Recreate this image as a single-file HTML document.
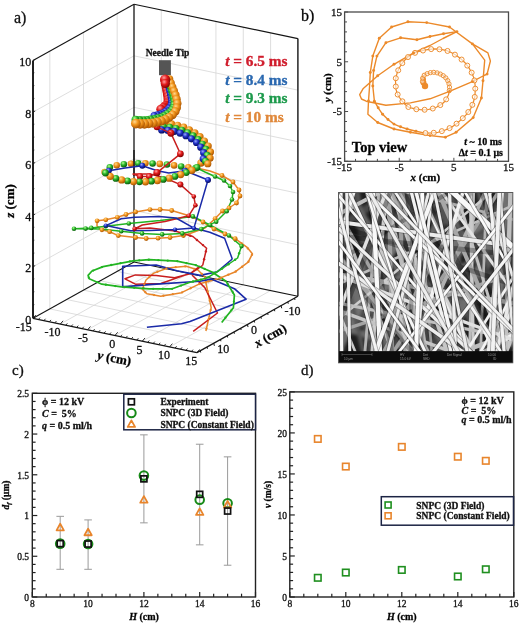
<!DOCTYPE html>
<html><head><meta charset="utf-8"><title>Figure</title>
<style>html,body{margin:0;padding:0;background:#fff;} svg{display:block;} text{font-family:'Liberation Serif','Times New Roman',serif;stroke:#111;stroke-width:0.3px;}</style>
</head><body>
<svg width="520" height="623" viewBox="0 0 520 623">
<rect width="520" height="623" fill="#fff"/>
<rect x="32.3" y="393.3" width="223.2" height="203.7" fill="none" stroke="#222" stroke-width="1.4"/>
<line x1="32.3" y1="597" x2="32.3" y2="592" stroke="#222" stroke-width="1.2"/>
<line x1="46.25" y1="597" x2="46.25" y2="593.7" stroke="#222" stroke-width="1.2"/>
<line x1="60.2" y1="597" x2="60.2" y2="593.7" stroke="#222" stroke-width="1.2"/>
<line x1="74.15" y1="597" x2="74.15" y2="593.7" stroke="#222" stroke-width="1.2"/>
<line x1="88.1" y1="597" x2="88.1" y2="592" stroke="#222" stroke-width="1.2"/>
<line x1="102.05" y1="597" x2="102.05" y2="593.7" stroke="#222" stroke-width="1.2"/>
<line x1="116" y1="597" x2="116" y2="593.7" stroke="#222" stroke-width="1.2"/>
<line x1="129.95" y1="597" x2="129.95" y2="593.7" stroke="#222" stroke-width="1.2"/>
<line x1="143.9" y1="597" x2="143.9" y2="592" stroke="#222" stroke-width="1.2"/>
<line x1="157.85" y1="597" x2="157.85" y2="593.7" stroke="#222" stroke-width="1.2"/>
<line x1="171.8" y1="597" x2="171.8" y2="593.7" stroke="#222" stroke-width="1.2"/>
<line x1="185.75" y1="597" x2="185.75" y2="593.7" stroke="#222" stroke-width="1.2"/>
<line x1="199.7" y1="597" x2="199.7" y2="592" stroke="#222" stroke-width="1.2"/>
<line x1="213.65" y1="597" x2="213.65" y2="593.7" stroke="#222" stroke-width="1.2"/>
<line x1="227.6" y1="597" x2="227.6" y2="593.7" stroke="#222" stroke-width="1.2"/>
<line x1="241.55" y1="597" x2="241.55" y2="593.7" stroke="#222" stroke-width="1.2"/>
<line x1="255.5" y1="597" x2="255.5" y2="592" stroke="#222" stroke-width="1.2"/>
<line x1="32.3" y1="597" x2="37.3" y2="597" stroke="#222" stroke-width="1.2"/>
<line x1="32.3" y1="588.85" x2="35.6" y2="588.85" stroke="#222" stroke-width="1.2"/>
<line x1="32.3" y1="580.7" x2="35.6" y2="580.7" stroke="#222" stroke-width="1.2"/>
<line x1="32.3" y1="572.56" x2="35.6" y2="572.56" stroke="#222" stroke-width="1.2"/>
<line x1="32.3" y1="564.41" x2="35.6" y2="564.41" stroke="#222" stroke-width="1.2"/>
<line x1="32.3" y1="556.26" x2="37.3" y2="556.26" stroke="#222" stroke-width="1.2"/>
<line x1="32.3" y1="548.11" x2="35.6" y2="548.11" stroke="#222" stroke-width="1.2"/>
<line x1="32.3" y1="539.96" x2="35.6" y2="539.96" stroke="#222" stroke-width="1.2"/>
<line x1="32.3" y1="531.82" x2="35.6" y2="531.82" stroke="#222" stroke-width="1.2"/>
<line x1="32.3" y1="523.67" x2="35.6" y2="523.67" stroke="#222" stroke-width="1.2"/>
<line x1="32.3" y1="515.52" x2="37.3" y2="515.52" stroke="#222" stroke-width="1.2"/>
<line x1="32.3" y1="507.37" x2="35.6" y2="507.37" stroke="#222" stroke-width="1.2"/>
<line x1="32.3" y1="499.22" x2="35.6" y2="499.22" stroke="#222" stroke-width="1.2"/>
<line x1="32.3" y1="491.08" x2="35.6" y2="491.08" stroke="#222" stroke-width="1.2"/>
<line x1="32.3" y1="482.93" x2="35.6" y2="482.93" stroke="#222" stroke-width="1.2"/>
<line x1="32.3" y1="474.78" x2="37.3" y2="474.78" stroke="#222" stroke-width="1.2"/>
<line x1="32.3" y1="466.63" x2="35.6" y2="466.63" stroke="#222" stroke-width="1.2"/>
<line x1="32.3" y1="458.48" x2="35.6" y2="458.48" stroke="#222" stroke-width="1.2"/>
<line x1="32.3" y1="450.34" x2="35.6" y2="450.34" stroke="#222" stroke-width="1.2"/>
<line x1="32.3" y1="442.19" x2="35.6" y2="442.19" stroke="#222" stroke-width="1.2"/>
<line x1="32.3" y1="434.04" x2="37.3" y2="434.04" stroke="#222" stroke-width="1.2"/>
<line x1="32.3" y1="425.89" x2="35.6" y2="425.89" stroke="#222" stroke-width="1.2"/>
<line x1="32.3" y1="417.74" x2="35.6" y2="417.74" stroke="#222" stroke-width="1.2"/>
<line x1="32.3" y1="409.6" x2="35.6" y2="409.6" stroke="#222" stroke-width="1.2"/>
<line x1="32.3" y1="401.45" x2="35.6" y2="401.45" stroke="#222" stroke-width="1.2"/>
<line x1="32.3" y1="393.3" x2="37.3" y2="393.3" stroke="#222" stroke-width="1.2"/>
<text x="29" y="600.8" font-size="9.5" text-anchor="end" font-weight="normal" fill="#111">0</text>
<text x="29" y="560.06" font-size="9.5" text-anchor="end" font-weight="normal" fill="#111">0.5</text>
<text x="29" y="519.32" font-size="9.5" text-anchor="end" font-weight="normal" fill="#111">1</text>
<text x="29" y="478.58" font-size="9.5" text-anchor="end" font-weight="normal" fill="#111">1.5</text>
<text x="29" y="437.84" font-size="9.5" text-anchor="end" font-weight="normal" fill="#111">2</text>
<text x="29" y="397.1" font-size="9.5" text-anchor="end" font-weight="normal" fill="#111">2.5</text>
<text x="32.3" y="606.8" font-size="9.5" text-anchor="middle" font-weight="normal" fill="#111">8</text>
<text x="88.1" y="606.8" font-size="9.5" text-anchor="middle" font-weight="normal" fill="#111">10</text>
<text x="143.9" y="606.8" font-size="9.5" text-anchor="middle" font-weight="normal" fill="#111">12</text>
<text x="199.7" y="606.8" font-size="9.5" text-anchor="middle" font-weight="normal" fill="#111">14</text>
<text x="255.5" y="606.8" font-size="9.5" text-anchor="middle" font-weight="normal" fill="#111">16</text>
<text x="0" y="0" font-size="9.5" font-weight="bold" text-anchor="middle" transform="translate(9.4,495) rotate(-90)"><tspan font-style="italic">d</tspan><tspan font-size="6.5" dy="2" font-style="italic">f</tspan><tspan dy="-2"> (μm)</tspan></text>
<text x="144" y="619.8" font-size="10" font-weight="bold" text-anchor="middle"><tspan font-style="italic">H</tspan> (cm)</text>
<text x="42" y="405.3" font-size="10" text-anchor="start" font-weight="bold" fill="#111">ϕ = 12 kV</text>
<text x="42" y="417.3" font-size="10" text-anchor="start" font-weight="bold" fill="#111"><tspan font-style="italic">C</tspan> =&#160; 5%</text>
<text x="42" y="428.8" font-size="10" text-anchor="start" font-weight="bold" fill="#111"><tspan font-style="italic">q</tspan> = 0.5 ml/h</text>
<line x1="60.2" y1="569.3" x2="60.2" y2="516.33" stroke="#9a9a9a" stroke-width="1"/>
<line x1="56.4" y1="569.3" x2="64" y2="569.3" stroke="#9a9a9a" stroke-width="1"/>
<line x1="56.4" y1="516.33" x2="64" y2="516.33" stroke="#9a9a9a" stroke-width="1"/>
<line x1="88.1" y1="569.3" x2="88.1" y2="519.92" stroke="#9a9a9a" stroke-width="1"/>
<line x1="84.3" y1="569.3" x2="91.9" y2="569.3" stroke="#9a9a9a" stroke-width="1"/>
<line x1="84.3" y1="519.92" x2="91.9" y2="519.92" stroke="#9a9a9a" stroke-width="1"/>
<line x1="143.9" y1="522.85" x2="143.9" y2="434.85" stroke="#9a9a9a" stroke-width="1"/>
<line x1="140.1" y1="522.85" x2="147.7" y2="522.85" stroke="#9a9a9a" stroke-width="1"/>
<line x1="140.1" y1="434.85" x2="147.7" y2="434.85" stroke="#9a9a9a" stroke-width="1"/>
<line x1="199.7" y1="544.85" x2="199.7" y2="444.23" stroke="#9a9a9a" stroke-width="1"/>
<line x1="195.9" y1="544.85" x2="203.5" y2="544.85" stroke="#9a9a9a" stroke-width="1"/>
<line x1="195.9" y1="444.23" x2="203.5" y2="444.23" stroke="#9a9a9a" stroke-width="1"/>
<line x1="227.6" y1="565.22" x2="227.6" y2="456.85" stroke="#9a9a9a" stroke-width="1"/>
<line x1="223.8" y1="565.22" x2="231.4" y2="565.22" stroke="#9a9a9a" stroke-width="1"/>
<line x1="223.8" y1="456.85" x2="231.4" y2="456.85" stroke="#9a9a9a" stroke-width="1"/>
<circle cx="60.2" cy="543.63" r="4.3" fill="none" stroke="#178a17" stroke-width="2.0"/>
<circle cx="88.1" cy="544.04" r="4.3" fill="none" stroke="#178a17" stroke-width="2.0"/>
<circle cx="143.9" cy="475.59" r="4.3" fill="none" stroke="#178a17" stroke-width="2.0"/>
<circle cx="199.7" cy="499.63" r="4.3" fill="none" stroke="#178a17" stroke-width="2.0"/>
<circle cx="227.6" cy="503.3" r="4.3" fill="none" stroke="#178a17" stroke-width="2.0"/>
<polygon points="60.2,523.8 63.85,530.37 56.55,530.37" fill="none" stroke="#e8852c" stroke-width="1.8" stroke-linejoin="round"/>
<polygon points="88.1,528.69 91.75,535.26 84.45,535.26" fill="none" stroke="#e8852c" stroke-width="1.8" stroke-linejoin="round"/>
<polygon points="143.9,496.1 147.55,502.67 140.25,502.67" fill="none" stroke="#e8852c" stroke-width="1.8" stroke-linejoin="round"/>
<polygon points="199.7,508.32 203.35,514.89 196.05,514.89" fill="none" stroke="#e8852c" stroke-width="1.8" stroke-linejoin="round"/>
<polygon points="227.6,500.99 231.25,507.56 223.95,507.56" fill="none" stroke="#e8852c" stroke-width="1.8" stroke-linejoin="round"/>
<rect x="57.2" y="540.63" width="6" height="6" fill="none" stroke="#111" stroke-width="1.7"/>
<rect x="85.1" y="541.04" width="6" height="6" fill="none" stroke="#111" stroke-width="1.7"/>
<rect x="140.9" y="475.85" width="6" height="6" fill="none" stroke="#111" stroke-width="1.7"/>
<rect x="196.7" y="491.34" width="6" height="6" fill="none" stroke="#111" stroke-width="1.7"/>
<rect x="224.6" y="508.04" width="6" height="6" fill="none" stroke="#111" stroke-width="1.7"/>
<rect x="123.8" y="394.2" width="131.7" height="35.6" fill="#fff" stroke="#1c2444" stroke-width="1.5"/>
<rect x="128.4" y="398.8" width="6" height="6" fill="none" stroke="#111" stroke-width="1.7"/>
<circle cx="131.4" cy="413" r="4.3" fill="none" stroke="#178a17" stroke-width="2.0"/>
<polygon points="131.4,420.36 135.05,426.93 127.75,426.93" fill="none" stroke="#e8852c" stroke-width="1.8" stroke-linejoin="round"/>
<text x="160.4" y="405" font-size="9.5" text-anchor="start" font-weight="bold" fill="#111">Experiment</text>
<text x="160.4" y="416.3" font-size="9.5" text-anchor="start" font-weight="bold" fill="#111">SNPC (3D Field)</text>
<text x="160.4" y="427.6" font-size="9.5" text-anchor="start" font-weight="bold" fill="#111">SNPC (Constant Field)</text>
<text x="12" y="375" font-size="15" text-anchor="start" font-weight="normal" fill="#111">c)</text>
<rect x="289.8" y="391.9" width="224" height="205.1" fill="none" stroke="#222" stroke-width="1.4"/>
<line x1="289.8" y1="597" x2="289.8" y2="592" stroke="#222" stroke-width="1.2"/>
<line x1="303.8" y1="597" x2="303.8" y2="593.7" stroke="#222" stroke-width="1.2"/>
<line x1="317.8" y1="597" x2="317.8" y2="593.7" stroke="#222" stroke-width="1.2"/>
<line x1="331.8" y1="597" x2="331.8" y2="593.7" stroke="#222" stroke-width="1.2"/>
<line x1="345.8" y1="597" x2="345.8" y2="592" stroke="#222" stroke-width="1.2"/>
<line x1="359.8" y1="597" x2="359.8" y2="593.7" stroke="#222" stroke-width="1.2"/>
<line x1="373.8" y1="597" x2="373.8" y2="593.7" stroke="#222" stroke-width="1.2"/>
<line x1="387.8" y1="597" x2="387.8" y2="593.7" stroke="#222" stroke-width="1.2"/>
<line x1="401.8" y1="597" x2="401.8" y2="592" stroke="#222" stroke-width="1.2"/>
<line x1="415.8" y1="597" x2="415.8" y2="593.7" stroke="#222" stroke-width="1.2"/>
<line x1="429.8" y1="597" x2="429.8" y2="593.7" stroke="#222" stroke-width="1.2"/>
<line x1="443.8" y1="597" x2="443.8" y2="593.7" stroke="#222" stroke-width="1.2"/>
<line x1="457.8" y1="597" x2="457.8" y2="592" stroke="#222" stroke-width="1.2"/>
<line x1="471.8" y1="597" x2="471.8" y2="593.7" stroke="#222" stroke-width="1.2"/>
<line x1="485.8" y1="597" x2="485.8" y2="593.7" stroke="#222" stroke-width="1.2"/>
<line x1="499.8" y1="597" x2="499.8" y2="593.7" stroke="#222" stroke-width="1.2"/>
<line x1="513.8" y1="597" x2="513.8" y2="592" stroke="#222" stroke-width="1.2"/>
<line x1="289.8" y1="597" x2="294.8" y2="597" stroke="#222" stroke-width="1.2"/>
<line x1="289.8" y1="588.8" x2="293.1" y2="588.8" stroke="#222" stroke-width="1.2"/>
<line x1="289.8" y1="580.59" x2="293.1" y2="580.59" stroke="#222" stroke-width="1.2"/>
<line x1="289.8" y1="572.39" x2="293.1" y2="572.39" stroke="#222" stroke-width="1.2"/>
<line x1="289.8" y1="564.18" x2="293.1" y2="564.18" stroke="#222" stroke-width="1.2"/>
<line x1="289.8" y1="555.98" x2="294.8" y2="555.98" stroke="#222" stroke-width="1.2"/>
<line x1="289.8" y1="547.78" x2="293.1" y2="547.78" stroke="#222" stroke-width="1.2"/>
<line x1="289.8" y1="539.57" x2="293.1" y2="539.57" stroke="#222" stroke-width="1.2"/>
<line x1="289.8" y1="531.37" x2="293.1" y2="531.37" stroke="#222" stroke-width="1.2"/>
<line x1="289.8" y1="523.16" x2="293.1" y2="523.16" stroke="#222" stroke-width="1.2"/>
<line x1="289.8" y1="514.96" x2="294.8" y2="514.96" stroke="#222" stroke-width="1.2"/>
<line x1="289.8" y1="506.76" x2="293.1" y2="506.76" stroke="#222" stroke-width="1.2"/>
<line x1="289.8" y1="498.55" x2="293.1" y2="498.55" stroke="#222" stroke-width="1.2"/>
<line x1="289.8" y1="490.35" x2="293.1" y2="490.35" stroke="#222" stroke-width="1.2"/>
<line x1="289.8" y1="482.14" x2="293.1" y2="482.14" stroke="#222" stroke-width="1.2"/>
<line x1="289.8" y1="473.94" x2="294.8" y2="473.94" stroke="#222" stroke-width="1.2"/>
<line x1="289.8" y1="465.74" x2="293.1" y2="465.74" stroke="#222" stroke-width="1.2"/>
<line x1="289.8" y1="457.53" x2="293.1" y2="457.53" stroke="#222" stroke-width="1.2"/>
<line x1="289.8" y1="449.33" x2="293.1" y2="449.33" stroke="#222" stroke-width="1.2"/>
<line x1="289.8" y1="441.12" x2="293.1" y2="441.12" stroke="#222" stroke-width="1.2"/>
<line x1="289.8" y1="432.92" x2="294.8" y2="432.92" stroke="#222" stroke-width="1.2"/>
<line x1="289.8" y1="424.72" x2="293.1" y2="424.72" stroke="#222" stroke-width="1.2"/>
<line x1="289.8" y1="416.51" x2="293.1" y2="416.51" stroke="#222" stroke-width="1.2"/>
<line x1="289.8" y1="408.31" x2="293.1" y2="408.31" stroke="#222" stroke-width="1.2"/>
<line x1="289.8" y1="400.1" x2="293.1" y2="400.1" stroke="#222" stroke-width="1.2"/>
<line x1="289.8" y1="391.9" x2="294.8" y2="391.9" stroke="#222" stroke-width="1.2"/>
<text x="287" y="601.2" font-size="9.5" text-anchor="end" font-weight="normal" fill="#111">0</text>
<text x="287" y="560.18" font-size="9.5" text-anchor="end" font-weight="normal" fill="#111">5</text>
<text x="287" y="519.16" font-size="9.5" text-anchor="end" font-weight="normal" fill="#111">10</text>
<text x="287" y="478.14" font-size="9.5" text-anchor="end" font-weight="normal" fill="#111">15</text>
<text x="287" y="437.12" font-size="9.5" text-anchor="end" font-weight="normal" fill="#111">20</text>
<text x="287" y="396.1" font-size="9.5" text-anchor="end" font-weight="normal" fill="#111">25</text>
<text x="289.8" y="606.8" font-size="9.5" text-anchor="middle" font-weight="normal" fill="#111">8</text>
<text x="345.8" y="606.8" font-size="9.5" text-anchor="middle" font-weight="normal" fill="#111">10</text>
<text x="401.8" y="606.8" font-size="9.5" text-anchor="middle" font-weight="normal" fill="#111">12</text>
<text x="457.8" y="606.8" font-size="9.5" text-anchor="middle" font-weight="normal" fill="#111">14</text>
<text x="513.8" y="606.8" font-size="9.5" text-anchor="middle" font-weight="normal" fill="#111">16</text>
<text x="0" y="0" font-size="9.5" font-weight="bold" text-anchor="middle" transform="translate(271.2,494.5) rotate(-90)"><tspan font-style="italic">v</tspan> (m/s)</text>
<text x="401.8" y="619.8" font-size="10" font-weight="bold" text-anchor="middle"><tspan font-style="italic">H</tspan>  (cm)</text>
<text x="461.5" y="403.5" font-size="10" text-anchor="start" font-weight="bold" fill="#111">ϕ = 12 kV</text>
<text x="461.5" y="413.7" font-size="10" text-anchor="start" font-weight="bold" fill="#111"><tspan font-style="italic">C</tspan> =&#160; 5%</text>
<text x="461.5" y="423.4" font-size="10" text-anchor="start" font-weight="bold" fill="#111"><tspan font-style="italic">q</tspan> = 0.5 ml/h</text>
<rect x="314.55" y="435.66" width="6.5" height="6.5" fill="none" stroke="#e8852c" stroke-width="1.6"/>
<rect x="342.55" y="463.31" width="6.5" height="6.5" fill="none" stroke="#e8852c" stroke-width="1.6"/>
<rect x="398.55" y="443.62" width="6.5" height="6.5" fill="none" stroke="#e8852c" stroke-width="1.6"/>
<rect x="454.55" y="453.46" width="6.5" height="6.5" fill="none" stroke="#e8852c" stroke-width="1.6"/>
<rect x="482.55" y="457.56" width="6.5" height="6.5" fill="none" stroke="#e8852c" stroke-width="1.6"/>
<rect x="314.55" y="574.55" width="6.5" height="6.5" fill="none" stroke="#1f8f1f" stroke-width="1.6"/>
<rect x="342.55" y="569.3" width="6.5" height="6.5" fill="none" stroke="#1f8f1f" stroke-width="1.6"/>
<rect x="398.55" y="566.68" width="6.5" height="6.5" fill="none" stroke="#1f8f1f" stroke-width="1.6"/>
<rect x="454.55" y="573.24" width="6.5" height="6.5" fill="none" stroke="#1f8f1f" stroke-width="1.6"/>
<rect x="482.55" y="566.02" width="6.5" height="6.5" fill="none" stroke="#1f8f1f" stroke-width="1.6"/>
<rect x="381.3" y="496.7" width="132.2" height="28.5" fill="#fff" stroke="#1c2444" stroke-width="1.5"/>
<rect x="385.1" y="502" width="6" height="6" fill="none" stroke="#1f8f1f" stroke-width="1.6"/>
<rect x="385.1" y="512.8" width="6" height="6" fill="none" stroke="#e8852c" stroke-width="1.6"/>
<text x="416.3" y="508.6" font-size="9.5" text-anchor="start" font-weight="bold" fill="#111">SNPC (3D Field)</text>
<text x="416.3" y="519.3" font-size="9.5" text-anchor="start" font-weight="bold" fill="#111">SNPC (Constant Field)</text>
<text x="301" y="375.4" font-size="15" text-anchor="start" font-weight="normal" fill="#111">d)</text>
<defs>
<radialGradient id="go" cx="38%" cy="32%" r="70%"><stop offset="0" stop-color="#ffd890"/><stop offset="0.45" stop-color="#f2961c"/><stop offset="1" stop-color="#a85200"/></radialGradient>
<radialGradient id="gg" cx="38%" cy="32%" r="70%"><stop offset="0" stop-color="#b8ff98"/><stop offset="0.45" stop-color="#2cb82c"/><stop offset="1" stop-color="#075407"/></radialGradient>
<radialGradient id="gb" cx="38%" cy="32%" r="70%"><stop offset="0" stop-color="#9aa8ff"/><stop offset="0.45" stop-color="#2233c8"/><stop offset="1" stop-color="#02075a"/></radialGradient>
<radialGradient id="gr" cx="38%" cy="32%" r="70%"><stop offset="0" stop-color="#ffa0a0"/><stop offset="0.45" stop-color="#e21a1a"/><stop offset="1" stop-color="#780000"/></radialGradient>
<clipPath id="semclip"><rect x="339" y="193" width="173.5" height="158.4"/></clipPath>
<filter id="semblur" x="-5%" y="-5%" width="110%" height="110%"><feGaussianBlur stdDeviation="0.7"/></filter>
<filter id="semblur2" x="-5%" y="-5%" width="110%" height="110%"><feGaussianBlur stdDeviation="1.4"/></filter>
</defs>
<line x1="49.83" y1="308.92" x2="49.83" y2="51.22" stroke="#d6d6d6" stroke-width="0.8"/>
<line x1="83.5" y1="290.15" x2="83.5" y2="32.45" stroke="#d6d6d6" stroke-width="0.8"/>
<line x1="117.17" y1="271.38" x2="117.17" y2="13.68" stroke="#d6d6d6" stroke-width="0.8"/>
<line x1="33" y1="266.76" x2="134" y2="210.46" stroke="#d6d6d6" stroke-width="0.8"/>
<line x1="33" y1="215.22" x2="134" y2="158.92" stroke="#d6d6d6" stroke-width="0.8"/>
<line x1="33" y1="163.68" x2="134" y2="107.38" stroke="#d6d6d6" stroke-width="0.8"/>
<line x1="33" y1="112.14" x2="134" y2="55.84" stroke="#d6d6d6" stroke-width="0.8"/>
<line x1="161.32" y1="267.72" x2="161.32" y2="10.02" stroke="#d6d6d6" stroke-width="0.8"/>
<line x1="188.63" y1="273.43" x2="188.63" y2="15.73" stroke="#d6d6d6" stroke-width="0.8"/>
<line x1="215.95" y1="279.15" x2="215.95" y2="21.45" stroke="#d6d6d6" stroke-width="0.8"/>
<line x1="243.27" y1="284.87" x2="243.27" y2="27.17" stroke="#d6d6d6" stroke-width="0.8"/>
<line x1="270.58" y1="290.58" x2="270.58" y2="32.88" stroke="#d6d6d6" stroke-width="0.8"/>
<line x1="134" y1="210.46" x2="297.9" y2="244.76" stroke="#d6d6d6" stroke-width="0.8"/>
<line x1="134" y1="158.92" x2="297.9" y2="193.22" stroke="#d6d6d6" stroke-width="0.8"/>
<line x1="134" y1="107.38" x2="297.9" y2="141.68" stroke="#d6d6d6" stroke-width="0.8"/>
<line x1="134" y1="55.84" x2="297.9" y2="90.14" stroke="#d6d6d6" stroke-width="0.8"/>
<line x1="60.32" y1="324.02" x2="161.32" y2="267.72" stroke="#d6d6d6" stroke-width="0.8"/>
<line x1="87.63" y1="329.73" x2="188.63" y2="273.43" stroke="#d6d6d6" stroke-width="0.8"/>
<line x1="114.95" y1="335.45" x2="215.95" y2="279.15" stroke="#d6d6d6" stroke-width="0.8"/>
<line x1="142.27" y1="341.17" x2="243.27" y2="284.87" stroke="#d6d6d6" stroke-width="0.8"/>
<line x1="169.58" y1="346.88" x2="270.58" y2="290.58" stroke="#d6d6d6" stroke-width="0.8"/>
<line x1="49.83" y1="308.92" x2="213.73" y2="343.22" stroke="#d6d6d6" stroke-width="0.8"/>
<line x1="66.67" y1="299.53" x2="230.57" y2="333.83" stroke="#d6d6d6" stroke-width="0.8"/>
<line x1="83.5" y1="290.15" x2="247.4" y2="324.45" stroke="#d6d6d6" stroke-width="0.8"/>
<line x1="100.33" y1="280.77" x2="264.23" y2="315.07" stroke="#d6d6d6" stroke-width="0.8"/>
<line x1="117.17" y1="271.38" x2="281.07" y2="305.68" stroke="#d6d6d6" stroke-width="0.8"/>
<line x1="33" y1="60.6" x2="134" y2="4.3" stroke="#151515" stroke-width="1.1"/>
<line x1="134" y1="4.3" x2="297.9" y2="38.6" stroke="#151515" stroke-width="1.1"/>
<line x1="134" y1="262" x2="134" y2="4.3" stroke="#151515" stroke-width="1.3"/>
<line x1="297.9" y1="296.3" x2="297.9" y2="38.6" stroke="#151515" stroke-width="1.4"/>
<line x1="33" y1="318.3" x2="134" y2="262" stroke="#151515" stroke-width="1.1"/>
<line x1="134" y1="262" x2="297.9" y2="296.3" stroke="#151515" stroke-width="1.1"/>
<line x1="33" y1="318.3" x2="33" y2="60.6" stroke="#151515" stroke-width="1.9"/>
<line x1="33" y1="318.3" x2="196.9" y2="352.6" stroke="#151515" stroke-width="1.3"/>
<line x1="196.9" y1="352.6" x2="297.9" y2="296.3" stroke="#151515" stroke-width="1.3"/>
<line x1="33" y1="318.3" x2="35.2" y2="317.09" stroke="#151515" stroke-width="0.9"/>
<line x1="33" y1="305.42" x2="34.3" y2="304.7" stroke="#151515" stroke-width="0.9"/>
<line x1="33" y1="292.53" x2="34.3" y2="291.82" stroke="#151515" stroke-width="0.9"/>
<line x1="33" y1="279.64" x2="34.3" y2="278.93" stroke="#151515" stroke-width="0.9"/>
<line x1="33" y1="266.76" x2="35.2" y2="265.55" stroke="#151515" stroke-width="0.9"/>
<line x1="33" y1="253.88" x2="34.3" y2="253.16" stroke="#151515" stroke-width="0.9"/>
<line x1="33" y1="240.99" x2="34.3" y2="240.28" stroke="#151515" stroke-width="0.9"/>
<line x1="33" y1="228.11" x2="34.3" y2="227.39" stroke="#151515" stroke-width="0.9"/>
<line x1="33" y1="215.22" x2="35.2" y2="214.01" stroke="#151515" stroke-width="0.9"/>
<line x1="33" y1="202.34" x2="34.3" y2="201.62" stroke="#151515" stroke-width="0.9"/>
<line x1="33" y1="189.45" x2="34.3" y2="188.74" stroke="#151515" stroke-width="0.9"/>
<line x1="33" y1="176.57" x2="34.3" y2="175.85" stroke="#151515" stroke-width="0.9"/>
<line x1="33" y1="163.68" x2="35.2" y2="162.47" stroke="#151515" stroke-width="0.9"/>
<line x1="33" y1="150.8" x2="34.3" y2="150.08" stroke="#151515" stroke-width="0.9"/>
<line x1="33" y1="137.91" x2="34.3" y2="137.2" stroke="#151515" stroke-width="0.9"/>
<line x1="33" y1="125.03" x2="34.3" y2="124.31" stroke="#151515" stroke-width="0.9"/>
<line x1="33" y1="112.14" x2="35.2" y2="110.93" stroke="#151515" stroke-width="0.9"/>
<line x1="33" y1="99.26" x2="34.3" y2="98.54" stroke="#151515" stroke-width="0.9"/>
<line x1="33" y1="86.37" x2="34.3" y2="85.66" stroke="#151515" stroke-width="0.9"/>
<line x1="33" y1="73.49" x2="34.3" y2="72.77" stroke="#151515" stroke-width="0.9"/>
<line x1="33" y1="60.6" x2="35.2" y2="59.39" stroke="#151515" stroke-width="0.9"/>
<line x1="33" y1="318.3" x2="35.76" y2="315.1" stroke="#151515" stroke-width="0.9"/>
<line x1="38.46" y1="319.44" x2="40.02" y2="317.64" stroke="#151515" stroke-width="0.9"/>
<line x1="43.93" y1="320.59" x2="45.48" y2="318.79" stroke="#151515" stroke-width="0.9"/>
<line x1="49.39" y1="321.73" x2="50.94" y2="319.93" stroke="#151515" stroke-width="0.9"/>
<line x1="54.85" y1="322.87" x2="56.41" y2="321.07" stroke="#151515" stroke-width="0.9"/>
<line x1="60.32" y1="324.02" x2="63.08" y2="320.82" stroke="#151515" stroke-width="0.9"/>
<line x1="65.78" y1="325.16" x2="67.33" y2="323.36" stroke="#151515" stroke-width="0.9"/>
<line x1="71.24" y1="326.3" x2="72.8" y2="324.5" stroke="#151515" stroke-width="0.9"/>
<line x1="76.71" y1="327.45" x2="78.26" y2="325.65" stroke="#151515" stroke-width="0.9"/>
<line x1="82.17" y1="328.59" x2="83.72" y2="326.79" stroke="#151515" stroke-width="0.9"/>
<line x1="87.63" y1="329.73" x2="90.4" y2="326.53" stroke="#151515" stroke-width="0.9"/>
<line x1="93.1" y1="330.88" x2="94.65" y2="329.08" stroke="#151515" stroke-width="0.9"/>
<line x1="98.56" y1="332.02" x2="100.11" y2="330.22" stroke="#151515" stroke-width="0.9"/>
<line x1="104.02" y1="333.16" x2="105.58" y2="331.36" stroke="#151515" stroke-width="0.9"/>
<line x1="109.49" y1="334.31" x2="111.04" y2="332.51" stroke="#151515" stroke-width="0.9"/>
<line x1="114.95" y1="335.45" x2="117.71" y2="332.25" stroke="#151515" stroke-width="0.9"/>
<line x1="120.41" y1="336.59" x2="121.97" y2="334.79" stroke="#151515" stroke-width="0.9"/>
<line x1="125.88" y1="337.74" x2="127.43" y2="335.94" stroke="#151515" stroke-width="0.9"/>
<line x1="131.34" y1="338.88" x2="132.89" y2="337.08" stroke="#151515" stroke-width="0.9"/>
<line x1="136.8" y1="340.02" x2="138.36" y2="338.22" stroke="#151515" stroke-width="0.9"/>
<line x1="142.27" y1="341.17" x2="145.03" y2="337.97" stroke="#151515" stroke-width="0.9"/>
<line x1="147.73" y1="342.31" x2="149.28" y2="340.51" stroke="#151515" stroke-width="0.9"/>
<line x1="153.19" y1="343.45" x2="154.75" y2="341.65" stroke="#151515" stroke-width="0.9"/>
<line x1="158.66" y1="344.6" x2="160.21" y2="342.8" stroke="#151515" stroke-width="0.9"/>
<line x1="164.12" y1="345.74" x2="165.67" y2="343.94" stroke="#151515" stroke-width="0.9"/>
<line x1="169.58" y1="346.88" x2="172.35" y2="343.68" stroke="#151515" stroke-width="0.9"/>
<line x1="175.05" y1="348.03" x2="176.6" y2="346.23" stroke="#151515" stroke-width="0.9"/>
<line x1="180.51" y1="349.17" x2="182.06" y2="347.37" stroke="#151515" stroke-width="0.9"/>
<line x1="185.97" y1="350.31" x2="187.53" y2="348.51" stroke="#151515" stroke-width="0.9"/>
<line x1="191.44" y1="351.46" x2="192.99" y2="349.66" stroke="#151515" stroke-width="0.9"/>
<line x1="196.9" y1="352.6" x2="199.66" y2="349.4" stroke="#151515" stroke-width="0.9"/>
<line x1="294.53" y1="298.18" x2="294.98" y2="299.98" stroke="#151515" stroke-width="1.0"/>
<line x1="287.8" y1="301.93" x2="288.25" y2="303.73" stroke="#151515" stroke-width="1.0"/>
<line x1="281.07" y1="305.68" x2="281.72" y2="308.28" stroke="#151515" stroke-width="1.0"/>
<line x1="274.33" y1="309.44" x2="274.78" y2="311.24" stroke="#151515" stroke-width="1.0"/>
<line x1="267.6" y1="313.19" x2="268.05" y2="314.99" stroke="#151515" stroke-width="1.0"/>
<line x1="260.87" y1="316.94" x2="261.32" y2="318.74" stroke="#151515" stroke-width="1.0"/>
<line x1="254.13" y1="320.7" x2="254.58" y2="322.5" stroke="#151515" stroke-width="1.0"/>
<line x1="247.4" y1="324.45" x2="248.05" y2="327.05" stroke="#151515" stroke-width="1.0"/>
<line x1="240.67" y1="328.2" x2="241.12" y2="330" stroke="#151515" stroke-width="1.0"/>
<line x1="233.93" y1="331.96" x2="234.38" y2="333.76" stroke="#151515" stroke-width="1.0"/>
<line x1="227.2" y1="335.71" x2="227.65" y2="337.51" stroke="#151515" stroke-width="1.0"/>
<line x1="220.47" y1="339.46" x2="220.92" y2="341.26" stroke="#151515" stroke-width="1.0"/>
<line x1="213.73" y1="343.22" x2="214.38" y2="345.82" stroke="#151515" stroke-width="1.0"/>
<line x1="207" y1="346.97" x2="207.45" y2="348.77" stroke="#151515" stroke-width="1.0"/>
<line x1="200.27" y1="350.72" x2="200.72" y2="352.52" stroke="#151515" stroke-width="1.0"/>
<text x="31.3" y="323.7" font-size="12" text-anchor="end" font-weight="normal" fill="#111">0</text>
<text x="31.3" y="272.16" font-size="12" text-anchor="end" font-weight="normal" fill="#111">2</text>
<text x="31.3" y="220.62" font-size="12" text-anchor="end" font-weight="normal" fill="#111">4</text>
<text x="31.3" y="169.08" font-size="12" text-anchor="end" font-weight="normal" fill="#111">6</text>
<text x="31.3" y="117.54" font-size="12" text-anchor="end" font-weight="normal" fill="#111">8</text>
<text x="31.3" y="66" font-size="12" text-anchor="end" font-weight="normal" fill="#111">10</text>
<text x="0" y="0" font-size="13" font-weight="bold" text-anchor="middle" transform="translate(14,201) rotate(-90)"><tspan font-style="italic">z</tspan> (cm)</text>
<text x="31.8" y="330.7" font-size="12" text-anchor="end" font-weight="normal" fill="#111">-15</text>
<text x="60.62" y="336.42" font-size="12" text-anchor="end" font-weight="normal" fill="#111">-10</text>
<text x="87.93" y="342.13" font-size="12" text-anchor="end" font-weight="normal" fill="#111">-5</text>
<text x="115.25" y="347.85" font-size="12" text-anchor="end" font-weight="normal" fill="#111">0</text>
<text x="142.57" y="353.57" font-size="12" text-anchor="end" font-weight="normal" fill="#111">5</text>
<text x="169.88" y="359.28" font-size="12" text-anchor="end" font-weight="normal" fill="#111">10</text>
<text x="197.2" y="365" font-size="12" text-anchor="end" font-weight="normal" fill="#111">15</text>
<text x="0" y="0" font-size="13" font-weight="bold" text-anchor="middle" transform="translate(113.5,362.3) rotate(11)"><tspan font-style="italic">y</tspan> (cm)</text>
<text x="217.23" y="353.02" font-size="12" text-anchor="start" font-weight="normal" fill="#111">10</text>
<text x="250.9" y="334.25" font-size="12" text-anchor="start" font-weight="normal" fill="#111">0</text>
<text x="284.57" y="315.48" font-size="12" text-anchor="start" font-weight="normal" fill="#111">-10</text>
<text x="0" y="0" font-size="13" font-weight="bold" text-anchor="middle" transform="translate(272.3,339.3) rotate(-30)"><tspan font-style="italic">x</tspan> (cm)</text>
<text x="14" y="22.5" font-size="16" text-anchor="start" font-weight="normal" fill="#111">a)</text>
<rect x="159" y="60.2" width="11.9" height="15" fill="#555"/>
<text x="167.5" y="55.6" font-size="9.5" text-anchor="middle" font-weight="bold" fill="#111">Needle Tip</text>
<text x="225.2" y="66" font-size="15.3" font-weight="bold" fill="#d01c2c" style="stroke:#d01c2c;stroke-width:0.35px"><tspan font-style="italic">t</tspan> = 6.5 ms</text>
<text x="225.2" y="84.7" font-size="15.3" font-weight="bold" fill="#2a68b0" style="stroke:#2a68b0;stroke-width:0.35px"><tspan font-style="italic">t</tspan> = 8.4 ms</text>
<text x="225.2" y="103.1" font-size="15.3" font-weight="bold" fill="#1d9a4c" style="stroke:#1d9a4c;stroke-width:0.35px"><tspan font-style="italic">t</tspan> = 9.3 ms</text>
<text x="225.2" y="121.9" font-size="15.3" font-weight="bold" fill="#e0883a" style="stroke:#e0883a;stroke-width:0.35px"><tspan font-style="italic">t</tspan> = 10 ms</text>
<polyline points="217.5,279.1 200.6,283.4 181.5,292.7 160.8,296.2 146.9,293.8 142.3,289.2 146,280 153.8,273.1 167.7,268 186.2,266.2 198,270 204.8,277 208,292.9 211.2,307.7 205.9,331" fill="none" stroke="#e8862a" stroke-width="1.5" stroke-linejoin="round"/>
<polyline points="202.7,265.4 190,273.8 174.6,277.7 156.2,275.4 135.4,274.9 125,278.8 135.4,284.2 160.8,283.5 190.8,273.1 200,266.2" fill="none" stroke="#c81e1e" stroke-width="1.5" stroke-linejoin="round"/>
<polyline points="192,275 204.8,287.6 217.5,313 193.2,331.4" fill="none" stroke="#c81e1e" stroke-width="1.5" stroke-linejoin="round"/>
<polyline points="232.3,259 217.5,271.7 200,275.4 176.9,270.8 156.2,265 122.7,266.2 122.7,286.9 149.2,284.6 200,281.2 211.2,279.1 234.4,288.7 246.1,299.2 190,321.4 181.5,323.8 146.9,327.3" fill="none" stroke="#1a2aa8" stroke-width="1.6" stroke-linejoin="round"/>
<polyline points="190,282.3 172.3,288.8 149.2,288.8 121.5,286.9 101.9,284.2 89.2,278.8 88.1,275.4 92,271 103.1,266.6 133.1,260.8 149.2,259.7 176.9,261.1 195.4,265 212,272 226,281.3 234.4,295 233.4,307.7 221.7,322.5" fill="none" stroke="#22b422" stroke-width="1.7" stroke-linejoin="round"/>
<circle cx="208.29" cy="281.44" r="1.15" fill="#e8862a"/>
<circle cx="199.2" cy="284.08" r="1.15" fill="#e8862a"/>
<circle cx="190.65" cy="288.24" r="1.15" fill="#e8862a"/>
<circle cx="182.11" cy="292.4" r="1.15" fill="#e8862a"/>
<circle cx="172.81" cy="294.17" r="1.15" fill="#e8862a"/>
<circle cx="163.44" cy="295.75" r="1.15" fill="#e8862a"/>
<circle cx="154.08" cy="295.04" r="1.15" fill="#e8862a"/>
<circle cx="145.33" cy="292.23" r="1.15" fill="#e8862a"/>
<circle cx="144.25" cy="284.36" r="1.15" fill="#e8862a"/>
<circle cx="149.59" cy="276.82" r="1.15" fill="#e8862a"/>
<circle cx="157.45" cy="271.76" r="1.15" fill="#e8862a"/>
<circle cx="166.36" cy="268.49" r="1.15" fill="#e8862a"/>
<circle cx="175.74" cy="267.22" r="1.15" fill="#e8862a"/>
<circle cx="185.19" cy="266.3" r="1.15" fill="#e8862a"/>
<circle cx="194.28" cy="268.8" r="1.15" fill="#e8862a"/>
<circle cx="201.9" cy="274.01" r="1.15" fill="#e8862a"/>
<circle cx="205.85" cy="282.23" r="1.15" fill="#e8862a"/>
<circle cx="207.73" cy="291.54" r="1.15" fill="#e8862a"/>
<circle cx="209.71" cy="300.83" r="1.15" fill="#e8862a"/>
<circle cx="210.65" cy="310.11" r="1.15" fill="#e8862a"/>
<circle cx="208.54" cy="319.37" r="1.15" fill="#e8862a"/>
<circle cx="206.44" cy="328.64" r="1.15" fill="#e8862a"/>
<circle cx="181.08" cy="285.57" r="1.15" fill="#22b422"/>
<circle cx="172.16" cy="288.8" r="1.15" fill="#22b422"/>
<circle cx="162.66" cy="288.8" r="1.15" fill="#22b422"/>
<circle cx="153.16" cy="288.8" r="1.15" fill="#22b422"/>
<circle cx="143.67" cy="288.42" r="1.15" fill="#22b422"/>
<circle cx="134.19" cy="287.77" r="1.15" fill="#22b422"/>
<circle cx="124.71" cy="287.12" r="1.15" fill="#22b422"/>
<circle cx="115.28" cy="286.04" r="1.15" fill="#22b422"/>
<circle cx="105.87" cy="284.75" r="1.15" fill="#22b422"/>
<circle cx="96.84" cy="282.05" r="1.15" fill="#22b422"/>
<circle cx="88.83" cy="277.66" r="1.15" fill="#22b422"/>
<circle cx="93.15" cy="270.54" r="1.15" fill="#22b422"/>
<circle cx="101.98" cy="267.04" r="1.15" fill="#22b422"/>
<circle cx="111.25" cy="265.02" r="1.15" fill="#22b422"/>
<circle cx="120.58" cy="263.22" r="1.15" fill="#22b422"/>
<circle cx="129.9" cy="261.42" r="1.15" fill="#22b422"/>
<circle cx="139.33" cy="260.37" r="1.15" fill="#22b422"/>
<circle cx="148.81" cy="259.73" r="1.15" fill="#22b422"/>
<circle cx="158.3" cy="260.16" r="1.15" fill="#22b422"/>
<circle cx="167.78" cy="260.64" r="1.15" fill="#22b422"/>
<circle cx="177.26" cy="261.18" r="1.15" fill="#22b422"/>
<circle cx="186.56" cy="263.14" r="1.15" fill="#22b422"/>
<circle cx="195.83" cy="265.18" r="1.15" fill="#22b422"/>
<circle cx="204.58" cy="268.87" r="1.15" fill="#22b422"/>
<circle cx="213.21" cy="272.8" r="1.15" fill="#22b422"/>
<circle cx="221.12" cy="278.06" r="1.15" fill="#22b422"/>
<circle cx="227.9" cy="284.41" r="1.15" fill="#22b422"/>
<circle cx="232.87" cy="292.5" r="1.15" fill="#22b422"/>
<circle cx="233.88" cy="301.55" r="1.15" fill="#22b422"/>
<circle cx="231.33" cy="310.31" r="1.15" fill="#22b422"/>
<circle cx="225.44" cy="317.77" r="1.15" fill="#22b422"/>
<polyline points="199,168.5 210,171 222,175.5 233,182 239,190 240,196 236.5,203 229,208 222.5,211 215.1,218.6 205,228 190,233.5 183.4,235.5 170,237.5 158,238.2 146.2,238.5 135.6,237.5 118.3,235.6 109.6,231.7 101.9,229.8 97,226 97.1,220.8 105.8,219.8 117.3,217.3 126,214.5 135.6,211.9 150,209.6 160.1,209.5 171.7,210.5 190,216 203,222 214,229.1 225,234 235.2,238.7 246.8,247.1 252.4,253.8 248.2,262.2 235.5,271.7 217.5,279.1" fill="none" stroke="#e8862a" stroke-width="1.5" stroke-linejoin="round"/>
<polyline points="199,169 205,172 215,176.5 224,180.5 230,186 233,192 232,199.5 226.7,211.2 216.2,221.7 201.3,229.1 182.3,233.4 162.2,234.4 142.1,233.4 121.2,231.2 100,229 74,228.8 91.3,227.9 105.8,226.2 128.8,223.5 160,220.5 192.9,216.4 210,225 228.9,235.5 241.5,246.1 237.6,258 223.8,267.5 206.9,278.1 190,282.3" fill="none" stroke="#22b422" stroke-width="1.5" stroke-linejoin="round"/>
<polyline points="180.4,184.6 193.8,196.5 195.4,205.2 188.7,215.8 165,221.5 142.3,225 134.6,228.8 150,228 175,231 192.9,236.5 206.6,248.2 202.7,265.4" fill="none" stroke="#c81e1e" stroke-width="1.5" stroke-linejoin="round"/>
<polyline points="208,180 193.9,228.1 176,218 159,216.4 134.6,217.3 121.2,218.7 105.8,225.6 130.8,230.8 150,230.4 175,229.6 193.9,228.1 209.8,232.3 224.6,238.2 232.3,259" fill="none" stroke="#1a2aa8" stroke-width="1.5" stroke-linejoin="round"/>
<circle cx="235.2" cy="238.7" r="1.2" fill="#e8862a"/>
<circle cx="241.68" cy="243.39" r="1.2" fill="#e8862a"/>
<circle cx="247.88" cy="248.39" r="1.2" fill="#e8862a"/>
<circle cx="251.98" cy="254.65" r="1.2" fill="#e8862a"/>
<circle cx="248.4" cy="261.8" r="1.2" fill="#e8862a"/>
<circle cx="242.15" cy="266.73" r="1.2" fill="#e8862a"/>
<circle cx="235.74" cy="271.52" r="1.2" fill="#e8862a"/>
<circle cx="228.38" cy="274.63" r="1.2" fill="#e8862a"/>
<circle cx="220.98" cy="277.67" r="1.2" fill="#e8862a"/>
<circle cx="228.9" cy="235.5" r="1.2" fill="#22b422"/>
<circle cx="235.02" cy="240.65" r="1.2" fill="#22b422"/>
<circle cx="241.14" cy="245.8" r="1.2" fill="#22b422"/>
<circle cx="239.15" cy="253.26" r="1.2" fill="#22b422"/>
<circle cx="235.12" cy="259.71" r="1.2" fill="#22b422"/>
<circle cx="228.53" cy="264.24" r="1.2" fill="#22b422"/>
<circle cx="221.89" cy="268.7" r="1.2" fill="#22b422"/>
<circle cx="215.11" cy="272.95" r="1.2" fill="#22b422"/>
<circle cx="208.33" cy="277.2" r="1.2" fill="#22b422"/>
<circle cx="200.78" cy="279.62" r="1.2" fill="#22b422"/>
<circle cx="193.01" cy="281.55" r="1.2" fill="#22b422"/>
<circle cx="175" cy="231" r="1.2" fill="#c81e1e"/>
<circle cx="182.65" cy="233.35" r="1.2" fill="#c81e1e"/>
<circle cx="190.29" cy="235.7" r="1.2" fill="#c81e1e"/>
<circle cx="196.91" cy="239.93" r="1.2" fill="#c81e1e"/>
<circle cx="202.99" cy="245.12" r="1.2" fill="#c81e1e"/>
<circle cx="205.88" cy="251.38" r="1.2" fill="#c81e1e"/>
<circle cx="204.11" cy="259.18" r="1.2" fill="#c81e1e"/>
<circle cx="222" cy="175.5" r="2.4" fill="url(#go)"/>
<circle cx="233" cy="182" r="2.4" fill="url(#go)"/>
<circle cx="239" cy="190" r="2.4" fill="url(#go)"/>
<circle cx="240" cy="196" r="2.4" fill="url(#go)"/>
<circle cx="236.5" cy="203" r="2.4" fill="url(#go)"/>
<circle cx="229" cy="208" r="2.4" fill="url(#go)"/>
<circle cx="222.5" cy="211" r="2.4" fill="url(#go)"/>
<circle cx="215.1" cy="218.6" r="2.4" fill="url(#go)"/>
<circle cx="183.4" cy="235.5" r="2.4" fill="url(#go)"/>
<circle cx="170" cy="237.5" r="2.4" fill="url(#go)"/>
<circle cx="158" cy="238.2" r="2.4" fill="url(#go)"/>
<circle cx="146.2" cy="238.5" r="2.4" fill="url(#go)"/>
<circle cx="135.6" cy="237.5" r="2.4" fill="url(#go)"/>
<circle cx="118.3" cy="235.6" r="2.4" fill="url(#go)"/>
<circle cx="109.6" cy="231.7" r="2.4" fill="url(#go)"/>
<circle cx="101.9" cy="229.8" r="2.4" fill="url(#go)"/>
<circle cx="97.1" cy="220.8" r="2.4" fill="url(#go)"/>
<circle cx="105.8" cy="219.8" r="2.4" fill="url(#go)"/>
<circle cx="117.3" cy="217.3" r="2.4" fill="url(#go)"/>
<circle cx="126" cy="214.5" r="2.4" fill="url(#go)"/>
<circle cx="135.6" cy="211.9" r="2.4" fill="url(#go)"/>
<circle cx="150" cy="209.6" r="2.4" fill="url(#go)"/>
<circle cx="160.1" cy="209.5" r="2.4" fill="url(#go)"/>
<circle cx="171.7" cy="210.5" r="2.4" fill="url(#go)"/>
<circle cx="203" cy="222" r="2.4" fill="url(#go)"/>
<circle cx="214" cy="229.1" r="2.4" fill="url(#go)"/>
<circle cx="225" cy="234" r="2.4" fill="url(#go)"/>
<circle cx="235.2" cy="238.7" r="2.4" fill="url(#go)"/>
<circle cx="215" cy="176.5" r="2.3" fill="url(#gg)"/>
<circle cx="224" cy="180.5" r="2.3" fill="url(#gg)"/>
<circle cx="230" cy="186" r="2.3" fill="url(#gg)"/>
<circle cx="233" cy="192" r="2.3" fill="url(#gg)"/>
<circle cx="232" cy="199.5" r="2.3" fill="url(#gg)"/>
<circle cx="226.7" cy="211.2" r="2.3" fill="url(#gg)"/>
<circle cx="216.2" cy="221.7" r="2.3" fill="url(#gg)"/>
<circle cx="201.3" cy="229.1" r="2.3" fill="url(#gg)"/>
<circle cx="182.3" cy="233.4" r="2.3" fill="url(#gg)"/>
<circle cx="162.2" cy="234.4" r="2.3" fill="url(#gg)"/>
<circle cx="142.1" cy="233.4" r="2.3" fill="url(#gg)"/>
<circle cx="121.2" cy="231.2" r="2.3" fill="url(#gg)"/>
<circle cx="74" cy="228.8" r="2.3" fill="url(#gg)"/>
<circle cx="91.3" cy="227.9" r="2.3" fill="url(#gg)"/>
<circle cx="105.8" cy="226.2" r="2.3" fill="url(#gg)"/>
<circle cx="128.8" cy="223.5" r="2.3" fill="url(#gg)"/>
<circle cx="192.9" cy="216.4" r="2.3" fill="url(#gg)"/>
<circle cx="210" cy="225" r="2.3" fill="url(#gg)"/>
<circle cx="228.9" cy="235.5" r="2.3" fill="url(#gg)"/>
<circle cx="241.5" cy="246.1" r="2.3" fill="url(#gg)"/>
<circle cx="85.6" cy="228.6" r="2.3" fill="url(#gg)"/>
<circle cx="208" cy="180" r="2.2" fill="url(#gb)"/>
<circle cx="193.9" cy="228.1" r="2.2" fill="url(#gb)"/>
<circle cx="105.8" cy="225.6" r="2.2" fill="url(#gb)"/>
<circle cx="175" cy="229.6" r="2.2" fill="url(#gb)"/>
<circle cx="180.4" cy="184.6" r="2.3" fill="url(#gr)"/>
<circle cx="193.8" cy="196.5" r="2.3" fill="url(#gr)"/>
<circle cx="195.4" cy="205.2" r="2.3" fill="url(#gr)"/>
<circle cx="188.7" cy="215.8" r="2.3" fill="url(#gr)"/>
<circle cx="134.6" cy="228.8" r="2.3" fill="url(#gr)"/>
<circle cx="104.6" cy="172" r="3.3" fill="url(#go)"/>
<circle cx="109.84" cy="167.34" r="3.3" fill="url(#gg)"/>
<circle cx="116.7" cy="165.25" r="3.3" fill="url(#go)"/>
<circle cx="123.82" cy="164.18" r="3.3" fill="url(#gg)"/>
<circle cx="131" cy="163.72" r="3.3" fill="url(#go)"/>
<circle cx="138.19" cy="163.38" r="3.3" fill="url(#gg)"/>
<circle cx="145.39" cy="163.37" r="3.3" fill="url(#go)"/>
<circle cx="152.59" cy="163.47" r="3.3" fill="url(#gg)"/>
<circle cx="159.77" cy="163.91" r="3.3" fill="url(#go)"/>
<circle cx="166.94" cy="164.54" r="3.3" fill="url(#gg)"/>
<circle cx="174.09" cy="165.4" r="3.3" fill="url(#go)"/>
<circle cx="181.21" cy="166.44" r="3.3" fill="url(#gg)"/>
<circle cx="188.35" cy="167.36" r="3.3" fill="url(#go)"/>
<circle cx="195.51" cy="168.13" r="3.3" fill="url(#gg)"/>
<line x1="134" y1="150" x2="134" y2="176" stroke="#151515" stroke-width="1.3"/>
<polyline points="108.8,170.8 125,168 142.3,165.7 157.3,170.8 168.8,173 185,170.8 208,180" fill="none" stroke="#1a2aa8" stroke-width="1.6" stroke-linejoin="round"/>
<circle cx="108.8" cy="170.8" r="3" fill="url(#gb)"/>
<circle cx="142.3" cy="165.7" r="3" fill="url(#gb)"/>
<circle cx="185" cy="170.8" r="3" fill="url(#gb)"/>
<circle cx="208" cy="180" r="3" fill="url(#gb)"/>
<polyline points="170.9,133.1 180.4,153.8 157,172.6 149.2,176.5 140,176.5 133,174 150,174 165,178 180.4,184.6" fill="none" stroke="#c81e1e" stroke-width="1.5" stroke-linejoin="round"/>
<circle cx="157" cy="172.6" r="3.6" fill="url(#gr)"/>
<circle cx="149.2" cy="176.5" r="3.2" fill="url(#gr)"/>
<circle cx="140" cy="176.5" r="3.2" fill="url(#gr)"/>
<circle cx="180.4" cy="184.6" r="3" fill="url(#gr)"/>
<circle cx="201" cy="163" r="3.7" fill="url(#go)"/>
<circle cx="196.96" cy="167.44" r="3.4" fill="url(#gg)"/>
<circle cx="191.82" cy="170.33" r="3.7" fill="url(#go)"/>
<circle cx="186.27" cy="172.61" r="3.4" fill="url(#gg)"/>
<circle cx="180.61" cy="174.59" r="3.7" fill="url(#go)"/>
<circle cx="174.9" cy="176.43" r="3.4" fill="url(#gg)"/>
<circle cx="169.15" cy="178.16" r="3.7" fill="url(#go)"/>
<circle cx="163.29" cy="179.44" r="3.4" fill="url(#gg)"/>
<circle cx="157.4" cy="180.56" r="3.7" fill="url(#go)"/>
<circle cx="151.44" cy="181.21" r="3.4" fill="url(#gg)"/>
<circle cx="145.47" cy="181.8" r="3.7" fill="url(#go)"/>
<circle cx="139.47" cy="181.8" r="3.4" fill="url(#gg)"/>
<circle cx="133.48" cy="181.62" r="3.7" fill="url(#go)"/>
<circle cx="127.52" cy="180.92" r="3.4" fill="url(#gg)"/>
<circle cx="121.62" cy="179.9" r="3.7" fill="url(#go)"/>
<circle cx="115.8" cy="178.45" r="3.4" fill="url(#gg)"/>
<circle cx="110.19" cy="176.37" r="3.7" fill="url(#go)"/>
<circle cx="105.42" cy="173.02" r="3.4" fill="url(#gg)"/>
<circle cx="165.3" cy="123.39" r="3.6" fill="url(#go)"/>
<circle cx="163.49" cy="126.64" r="3.5" fill="url(#gg)"/>
<circle cx="161.69" cy="129.89" r="3.6" fill="url(#gb)"/>
<circle cx="171.57" cy="123.97" r="3.6" fill="url(#go)"/>
<circle cx="169.77" cy="127.21" r="3.5" fill="url(#gg)"/>
<circle cx="167.97" cy="130.45" r="3.6" fill="url(#gb)"/>
<circle cx="177.68" cy="125.37" r="3.6" fill="url(#go)"/>
<circle cx="175.93" cy="128.38" r="3.5" fill="url(#gg)"/>
<circle cx="174.17" cy="131.38" r="3.6" fill="url(#gb)"/>
<circle cx="183.72" cy="127.18" r="3.6" fill="url(#go)"/>
<circle cx="181.96" cy="130.19" r="3.5" fill="url(#gg)"/>
<circle cx="180.2" cy="133.2" r="3.6" fill="url(#gb)"/>
<circle cx="189.39" cy="129.91" r="3.6" fill="url(#go)"/>
<circle cx="187.66" cy="132.83" r="3.5" fill="url(#gg)"/>
<circle cx="185.94" cy="135.76" r="3.6" fill="url(#gb)"/>
<circle cx="194.9" cy="132.93" r="3.6" fill="url(#go)"/>
<circle cx="193.17" cy="135.86" r="3.5" fill="url(#gg)"/>
<circle cx="191.44" cy="138.79" r="3.6" fill="url(#gb)"/>
<circle cx="199.98" cy="136.66" r="3.6" fill="url(#go)"/>
<circle cx="198.25" cy="139.58" r="3.5" fill="url(#gg)"/>
<circle cx="196.53" cy="142.51" r="3.6" fill="url(#gb)"/>
<circle cx="204.4" cy="141.08" r="3.6" fill="url(#go)"/>
<circle cx="202.57" cy="144.13" r="3.5" fill="url(#gg)"/>
<circle cx="200.74" cy="147.17" r="3.6" fill="url(#gb)"/>
<circle cx="208.21" cy="146.05" r="3.6" fill="url(#go)"/>
<circle cx="205.91" cy="149.37" r="3.5" fill="url(#gg)"/>
<circle cx="203.64" cy="152.68" r="3.6" fill="url(#gb)"/>
<circle cx="210.44" cy="151.94" r="3.6" fill="url(#go)"/>
<circle cx="207.22" cy="155.35" r="3.5" fill="url(#gg)"/>
<circle cx="203.26" cy="158.78" r="3.6" fill="url(#gb)"/>
<circle cx="210.12" cy="158.1" r="3.6" fill="url(#go)"/>
<circle cx="205.5" cy="161.25" r="3.5" fill="url(#gg)"/>
<circle cx="207.78" cy="163.74" r="3.6" fill="url(#go)"/>
<circle cx="157" cy="127" r="3.3" fill="url(#gr)"/>
<circle cx="170.9" cy="133.1" r="3.6" fill="url(#gr)"/>
<polyline points="157,127 170.9,133.1" fill="none" stroke="#c81e1e" stroke-width="1.3" stroke-linejoin="round"/>
<circle cx="180.4" cy="153.8" r="3.4" fill="url(#gr)"/>
<circle cx="165.59" cy="80.47" r="5.2" fill="url(#gr)"/>
<circle cx="166.15" cy="83.78" r="5.16" fill="url(#gr)"/>
<circle cx="166.72" cy="87.09" r="5.12" fill="url(#gr)"/>
<circle cx="167.29" cy="90.4" r="5.08" fill="url(#gr)"/>
<circle cx="167.86" cy="93.71" r="5.04" fill="url(#gr)"/>
<circle cx="168.33" cy="96.75" r="5" fill="url(#gr)"/>
<circle cx="168.52" cy="99.74" r="4.97" fill="url(#gr)"/>
<circle cx="168.57" cy="102.26" r="4.93" fill="url(#gr)"/>
<circle cx="168.07" cy="103.77" r="4.89" fill="url(#gr)"/>
<circle cx="167.16" cy="105.54" r="4.85" fill="url(#gr)"/>
<circle cx="166.74" cy="105.75" r="4.81" fill="url(#gr)"/>
<circle cx="165.56" cy="105.94" r="4.77" fill="url(#gr)"/>
<circle cx="164.57" cy="107.32" r="4.73" fill="url(#gr)"/>
<circle cx="163.45" cy="107.91" r="4.69" fill="url(#gr)"/>
<circle cx="160.94" cy="109.32" r="4.65" fill="url(#gr)"/>
<circle cx="167.86" cy="83.46" r="3.41" fill="url(#gb)"/>
<circle cx="168.72" cy="86.98" r="3.42" fill="url(#gb)"/>
<circle cx="169.57" cy="90.51" r="3.43" fill="url(#gb)"/>
<circle cx="170.4" cy="93.98" r="3.44" fill="url(#gb)"/>
<circle cx="171.1" cy="97.3" r="3.45" fill="url(#gb)"/>
<circle cx="171.53" cy="100.63" r="3.46" fill="url(#gb)"/>
<circle cx="171.73" cy="103.1" r="3.47" fill="url(#gb)"/>
<circle cx="170.86" cy="105.6" r="3.48" fill="url(#gb)"/>
<circle cx="170.45" cy="107.34" r="3.49" fill="url(#gb)"/>
<circle cx="168.82" cy="108.28" r="3.5" fill="url(#gb)"/>
<circle cx="167.25" cy="110.28" r="3.5" fill="url(#gb)"/>
<circle cx="165.29" cy="111.47" r="3.51" fill="url(#gb)"/>
<circle cx="162.56" cy="113" r="3.52" fill="url(#gb)"/>
<circle cx="160.19" cy="114.15" r="3.53" fill="url(#gb)"/>
<circle cx="157.34" cy="114.82" r="3.54" fill="url(#gb)"/>
<circle cx="154.06" cy="115.65" r="3.55" fill="url(#gb)"/>
<circle cx="168.15" cy="79.51" r="3.5" fill="url(#gg)"/>
<circle cx="169.28" cy="83.25" r="3.52" fill="url(#gg)"/>
<circle cx="170.42" cy="86.99" r="3.55" fill="url(#gg)"/>
<circle cx="171.56" cy="90.72" r="3.58" fill="url(#gg)"/>
<circle cx="172.67" cy="94.39" r="3.6" fill="url(#gg)"/>
<circle cx="173.54" cy="98.07" r="3.62" fill="url(#gg)"/>
<circle cx="174.21" cy="101.5" r="3.65" fill="url(#gg)"/>
<circle cx="173.99" cy="104.74" r="3.67" fill="url(#gg)"/>
<circle cx="173.4" cy="107.7" r="3.7" fill="url(#gg)"/>
<circle cx="171.76" cy="109.95" r="3.73" fill="url(#gg)"/>
<circle cx="169.69" cy="112.28" r="3.75" fill="url(#gg)"/>
<circle cx="167.12" cy="114.11" r="3.77" fill="url(#gg)"/>
<circle cx="164.06" cy="115.83" r="3.8" fill="url(#gg)"/>
<circle cx="161" cy="117.22" r="3.83" fill="url(#gg)"/>
<circle cx="157.54" cy="118.07" r="3.85" fill="url(#gg)"/>
<circle cx="153.94" cy="118.98" r="3.88" fill="url(#gg)"/>
<circle cx="150.36" cy="119.5" r="3.9" fill="url(#gg)"/>
<circle cx="146.6" cy="119.87" r="3.92" fill="url(#gg)"/>
<circle cx="143.02" cy="120.17" r="3.95" fill="url(#gg)"/>
<circle cx="139.39" cy="119.95" r="3.98" fill="url(#gg)"/>
<circle cx="135.5" cy="119.72" r="4" fill="url(#gg)"/>
<circle cx="169.5" cy="79" r="3.8" fill="url(#go)"/>
<circle cx="171.01" cy="83.03" r="3.86" fill="url(#go)"/>
<circle cx="172.52" cy="87.05" r="3.92" fill="url(#go)"/>
<circle cx="174.03" cy="91.08" r="3.98" fill="url(#go)"/>
<circle cx="175.53" cy="95.11" r="4.04" fill="url(#go)"/>
<circle cx="176.64" cy="99.26" r="4.11" fill="url(#go)"/>
<circle cx="177.37" cy="103.44" r="4.17" fill="url(#go)"/>
<circle cx="176.81" cy="107.7" r="4.23" fill="url(#go)"/>
<circle cx="175.23" cy="111.52" r="4.29" fill="url(#go)"/>
<circle cx="172.48" cy="114.83" r="4.35" fill="url(#go)"/>
<circle cx="169.08" cy="117.36" r="4.41" fill="url(#go)"/>
<circle cx="165.34" cy="119.47" r="4.47" fill="url(#go)"/>
<circle cx="161.37" cy="121.03" r="4.53" fill="url(#go)"/>
<circle cx="157.2" cy="122.08" r="4.59" fill="url(#go)"/>
<circle cx="153.02" cy="123.05" r="4.66" fill="url(#go)"/>
<circle cx="148.74" cy="123.48" r="4.72" fill="url(#go)"/>
<circle cx="144.46" cy="123.9" r="4.78" fill="url(#go)"/>
<circle cx="140.17" cy="123.8" r="4.84" fill="url(#go)"/>
<circle cx="135.88" cy="123.55" r="4.9" fill="url(#go)"/>
<circle cx="165.2" cy="79.6" r="5.2" fill="url(#gr)"/>
<circle cx="165.3" cy="83.5" r="4.6" fill="url(#gr)"/>
<rect x="344.6" y="12.0" width="163.9" height="149.3" fill="none" stroke="#4a4a4a" stroke-width="1.3"/>
<line x1="344.6" y1="161.3" x2="348.1" y2="161.3" stroke="#4a4a4a" stroke-width="1"/>
<line x1="344.6" y1="161.3" x2="344.6" y2="157.8" stroke="#4a4a4a" stroke-width="1"/>
<line x1="344.6" y1="151.35" x2="347" y2="151.35" stroke="#4a4a4a" stroke-width="1"/>
<line x1="355.53" y1="161.3" x2="355.53" y2="158.9" stroke="#4a4a4a" stroke-width="1"/>
<line x1="344.6" y1="141.39" x2="347" y2="141.39" stroke="#4a4a4a" stroke-width="1"/>
<line x1="366.45" y1="161.3" x2="366.45" y2="158.9" stroke="#4a4a4a" stroke-width="1"/>
<line x1="344.6" y1="131.44" x2="347" y2="131.44" stroke="#4a4a4a" stroke-width="1"/>
<line x1="377.38" y1="161.3" x2="377.38" y2="158.9" stroke="#4a4a4a" stroke-width="1"/>
<line x1="344.6" y1="121.49" x2="347" y2="121.49" stroke="#4a4a4a" stroke-width="1"/>
<line x1="388.31" y1="161.3" x2="388.31" y2="158.9" stroke="#4a4a4a" stroke-width="1"/>
<line x1="344.6" y1="111.53" x2="348.1" y2="111.53" stroke="#4a4a4a" stroke-width="1"/>
<line x1="399.23" y1="161.3" x2="399.23" y2="157.8" stroke="#4a4a4a" stroke-width="1"/>
<line x1="344.6" y1="101.58" x2="347" y2="101.58" stroke="#4a4a4a" stroke-width="1"/>
<line x1="410.16" y1="161.3" x2="410.16" y2="158.9" stroke="#4a4a4a" stroke-width="1"/>
<line x1="344.6" y1="91.63" x2="347" y2="91.63" stroke="#4a4a4a" stroke-width="1"/>
<line x1="421.09" y1="161.3" x2="421.09" y2="158.9" stroke="#4a4a4a" stroke-width="1"/>
<line x1="344.6" y1="81.67" x2="347" y2="81.67" stroke="#4a4a4a" stroke-width="1"/>
<line x1="432.01" y1="161.3" x2="432.01" y2="158.9" stroke="#4a4a4a" stroke-width="1"/>
<line x1="344.6" y1="71.72" x2="347" y2="71.72" stroke="#4a4a4a" stroke-width="1"/>
<line x1="442.94" y1="161.3" x2="442.94" y2="158.9" stroke="#4a4a4a" stroke-width="1"/>
<line x1="344.6" y1="61.77" x2="348.1" y2="61.77" stroke="#4a4a4a" stroke-width="1"/>
<line x1="453.87" y1="161.3" x2="453.87" y2="157.8" stroke="#4a4a4a" stroke-width="1"/>
<line x1="344.6" y1="51.81" x2="347" y2="51.81" stroke="#4a4a4a" stroke-width="1"/>
<line x1="464.79" y1="161.3" x2="464.79" y2="158.9" stroke="#4a4a4a" stroke-width="1"/>
<line x1="344.6" y1="41.86" x2="347" y2="41.86" stroke="#4a4a4a" stroke-width="1"/>
<line x1="475.72" y1="161.3" x2="475.72" y2="158.9" stroke="#4a4a4a" stroke-width="1"/>
<line x1="344.6" y1="31.91" x2="347" y2="31.91" stroke="#4a4a4a" stroke-width="1"/>
<line x1="486.65" y1="161.3" x2="486.65" y2="158.9" stroke="#4a4a4a" stroke-width="1"/>
<line x1="344.6" y1="21.95" x2="347" y2="21.95" stroke="#4a4a4a" stroke-width="1"/>
<line x1="497.57" y1="161.3" x2="497.57" y2="158.9" stroke="#4a4a4a" stroke-width="1"/>
<line x1="344.6" y1="12" x2="348.1" y2="12" stroke="#4a4a4a" stroke-width="1"/>
<line x1="508.5" y1="161.3" x2="508.5" y2="157.8" stroke="#4a4a4a" stroke-width="1"/>
<text x="342" y="15.8" font-size="11" text-anchor="end" font-weight="normal" fill="#111">15</text>
<text x="342" y="65.57" font-size="11" text-anchor="end" font-weight="normal" fill="#111">5</text>
<text x="342" y="115.33" font-size="11" text-anchor="end" font-weight="normal" fill="#111">-5</text>
<text x="342" y="165.1" font-size="11" text-anchor="end" font-weight="normal" fill="#111">-15</text>
<text x="344.6" y="171.2" font-size="11" text-anchor="middle" font-weight="normal" fill="#111">-15</text>
<text x="399.23" y="171.2" font-size="11" text-anchor="middle" font-weight="normal" fill="#111">-5</text>
<text x="453.87" y="171.2" font-size="11" text-anchor="middle" font-weight="normal" fill="#111">5</text>
<text x="508.5" y="171.2" font-size="11" text-anchor="middle" font-weight="normal" fill="#111">15</text>
<text x="0" y="0" font-size="11" font-weight="bold" text-anchor="middle" transform="translate(331.3,87.8) rotate(-90)"><tspan font-style="italic">y</tspan> (cm)</text>
<text x="425.4" y="181.3" font-size="11" font-weight="bold" text-anchor="middle"><tspan font-style="italic">x</tspan> (cm)</text>
<text x="351.8" y="152.2" font-size="14.5" font-weight="bold">Top view</text>
<text x="502" y="145.4" font-size="10" font-weight="bold" text-anchor="end"><tspan font-style="italic">t</tspan> ~ 10 ms</text>
<text x="503" y="155.5" font-size="10" font-weight="bold" text-anchor="end">Δ<tspan font-style="italic">t</tspan> = 0.1 μs</text>
<text x="301" y="21" font-size="16">b)</text>
<polyline points="456.9,31.6 443,38.5 430,45.5 413.6,52.9 394,64.3 377.7,75.7 363,88.8 359.7,94.7 361.5,99 366.2,101.2 385.9,105.3 410.4,102.9 430,98.8 449.5,91.4 472.4,81.6 483,76 487.1,74.1 490.4,61 487.9,52.9 472.4,43.9 449.5,27 426.7,22.6 407.9,21.8 391.6,27 379.3,38.2 372.8,56.1 370.3,72.5 369.5,87.2 368.5,101 367.9,114.3 377.7,122.5 394,129 410.4,132.3 430,135.6 445.4,137.2 456.1,132.3 473.2,117.6 481.4,98 483,80.8 484.7,60.2 472.4,43.9" fill="none" stroke="#ec8a2a" stroke-width="1.4" stroke-linejoin="round"/>
<polyline points="425,133.1 416,131.3 407.1,129 400.5,126.8 394,124.1 388,119.5 382.6,114.3 378.2,107.8 374.4,101.2 372.8,86 373.6,70.5 376.9,56.1 385.9,42.7 400.6,37.8 416.9,39.8 430,36.5 443.5,33.8 456.9,31.6" fill="none" stroke="#ec8a2a" stroke-width="1.4" stroke-linejoin="round"/>
<polyline points="426.5,86.7 424,84 422.5,81.5 422.6,78.5 423.1,76.3 425,74.5 427.7,73.5 430.5,72.6 433.5,72.3 436.5,72.7 439.2,73.5 442.2,75 445,76.9 447,79.3 448.5,82.1 449.4,85.3 449.6,88.5 449.2,91.7 448.5,94.8 447,98 445,101.2 442.3,103.8 439.2,105.8 435.8,107.5 432.3,108.7 428.2,109.5 424.2,109.8 420.2,109.7 416.2,109.2 412,108.2 408.1,106.9 404.9,104.3 402.3,101.2 399.4,97.5 397.3,93.9 396,89.4 395.7,84.9 395.5,81 395.9,77.4 397.2,72.8 399,68.4 401.6,64 404.7,60.2 408.5,56.6 412.8,53.7 418,51.7 423.5,50.4 429,49.3 434.8,48.8 440.5,49.4 446.2,50.4 451.2,52.5 456.1,55.3 460.8,58.8 465,62.7 468.7,67.4 471.6,72.5 473.6,77.3 474.9,82.3 475.3,89.3 474.9,96.3 473.3,102.5 470.8,108.6 467,113.8 462.6,118.4 457.2,123.2 451.2,127.4 444.7,130.2 438.1,132.3 431.5,133 425,133.1" fill="none" stroke="#ec8a2a" stroke-width="1.2" stroke-linejoin="round"/>
<circle cx="425" cy="86" r="3.2" fill="#ec8a2a"/>
<circle cx="423.4" cy="82.6" r="3" fill="#ec8a2a"/>
<circle cx="423.3" cy="79.2" r="2.6" fill="#ec8a2a"/>
<circle cx="422.5" cy="81.5" r="2.1" fill="#fff" fill-opacity="0.5" stroke="#ec8a2a" stroke-width="0.95"/>
<circle cx="422.69" cy="78.11" r="2.1" fill="#fff" fill-opacity="0.5" stroke="#ec8a2a" stroke-width="0.95"/>
<circle cx="424.22" cy="75.24" r="2.1" fill="#fff" fill-opacity="0.5" stroke="#ec8a2a" stroke-width="0.95"/>
<circle cx="427.18" cy="73.69" r="2.1" fill="#fff" fill-opacity="0.5" stroke="#ec8a2a" stroke-width="0.95"/>
<circle cx="430.41" cy="72.63" r="2.1" fill="#fff" fill-opacity="0.5" stroke="#ec8a2a" stroke-width="0.95"/>
<circle cx="433.79" cy="72.34" r="2.1" fill="#fff" fill-opacity="0.5" stroke="#ec8a2a" stroke-width="0.95"/>
<circle cx="437.14" cy="72.89" r="2.1" fill="#fff" fill-opacity="0.5" stroke="#ec8a2a" stroke-width="0.95"/>
<circle cx="440.32" cy="74.06" r="2.1" fill="#fff" fill-opacity="0.5" stroke="#ec8a2a" stroke-width="0.95"/>
<circle cx="443.27" cy="75.73" r="2.1" fill="#fff" fill-opacity="0.5" stroke="#ec8a2a" stroke-width="0.95"/>
<circle cx="445.84" cy="77.91" r="2.1" fill="#fff" fill-opacity="0.5" stroke="#ec8a2a" stroke-width="0.95"/>
<circle cx="447.75" cy="80.7" r="2.1" fill="#fff" fill-opacity="0.5" stroke="#ec8a2a" stroke-width="0.95"/>
<circle cx="448.99" cy="83.84" r="2.1" fill="#fff" fill-opacity="0.5" stroke="#ec8a2a" stroke-width="0.95"/>
<circle cx="449.52" cy="87.18" r="2.1" fill="#fff" fill-opacity="0.5" stroke="#ec8a2a" stroke-width="0.95"/>
<circle cx="449.34" cy="90.56" r="2.1" fill="#fff" fill-opacity="0.5" stroke="#ec8a2a" stroke-width="0.95"/>
<circle cx="446.16" cy="99.35" r="2.5" fill="#fff" fill-opacity="0.6" stroke="#ec8a2a" stroke-width="0.95"/>
<circle cx="440.31" cy="105.08" r="2.5" fill="#fff" fill-opacity="0.6" stroke="#ec8a2a" stroke-width="0.95"/>
<circle cx="432.8" cy="108.53" r="2.5" fill="#fff" fill-opacity="0.6" stroke="#ec8a2a" stroke-width="0.95"/>
<circle cx="424.61" cy="109.77" r="2.5" fill="#fff" fill-opacity="0.6" stroke="#ec8a2a" stroke-width="0.95"/>
<circle cx="416.34" cy="109.22" r="2.5" fill="#fff" fill-opacity="0.6" stroke="#ec8a2a" stroke-width="0.95"/>
<circle cx="408.36" cy="106.99" r="2.5" fill="#fff" fill-opacity="0.6" stroke="#ec8a2a" stroke-width="0.95"/>
<circle cx="402.39" cy="101.31" r="2.5" fill="#fff" fill-opacity="0.6" stroke="#ec8a2a" stroke-width="0.95"/>
<circle cx="397.66" cy="94.51" r="2.5" fill="#fff" fill-opacity="0.6" stroke="#ec8a2a" stroke-width="0.95"/>
<circle cx="395.81" cy="86.5" r="2.5" fill="#fff" fill-opacity="0.6" stroke="#ec8a2a" stroke-width="0.95"/>
<circle cx="395.81" cy="78.23" r="2.5" fill="#fff" fill-opacity="0.6" stroke="#ec8a2a" stroke-width="0.95"/>
<circle cx="398.22" cy="70.31" r="2.5" fill="#fff" fill-opacity="0.6" stroke="#ec8a2a" stroke-width="0.95"/>
<circle cx="402.31" cy="63.13" r="2.5" fill="#fff" fill-opacity="0.6" stroke="#ec8a2a" stroke-width="0.95"/>
<circle cx="407.98" cy="57.09" r="2.5" fill="#fff" fill-opacity="0.6" stroke="#ec8a2a" stroke-width="0.95"/>
<circle cx="415.04" cy="52.84" r="2.5" fill="#fff" fill-opacity="0.6" stroke="#ec8a2a" stroke-width="0.95"/>
<circle cx="422.99" cy="50.52" r="2.5" fill="#fff" fill-opacity="0.6" stroke="#ec8a2a" stroke-width="0.95"/>
<circle cx="431.16" cy="49.11" r="2.5" fill="#fff" fill-opacity="0.6" stroke="#ec8a2a" stroke-width="0.95"/>
<circle cx="439.42" cy="49.29" r="2.5" fill="#fff" fill-opacity="0.6" stroke="#ec8a2a" stroke-width="0.95"/>
<circle cx="447.51" cy="50.95" r="2.5" fill="#fff" fill-opacity="0.6" stroke="#ec8a2a" stroke-width="0.95"/>
<circle cx="454.94" cy="54.63" r="2.5" fill="#fff" fill-opacity="0.6" stroke="#ec8a2a" stroke-width="0.95"/>
<circle cx="461.6" cy="59.55" r="2.5" fill="#fff" fill-opacity="0.6" stroke="#ec8a2a" stroke-width="0.95"/>
<circle cx="467.27" cy="65.58" r="2.5" fill="#fff" fill-opacity="0.6" stroke="#ec8a2a" stroke-width="0.95"/>
<circle cx="471.65" cy="72.61" r="2.5" fill="#fff" fill-opacity="0.6" stroke="#ec8a2a" stroke-width="0.95"/>
<circle cx="474.41" cy="80.41" r="2.5" fill="#fff" fill-opacity="0.6" stroke="#ec8a2a" stroke-width="0.95"/>
<circle cx="475.26" cy="88.64" r="2.5" fill="#fff" fill-opacity="0.6" stroke="#ec8a2a" stroke-width="0.95"/>
<circle cx="474.74" cy="96.91" r="2.5" fill="#fff" fill-opacity="0.6" stroke="#ec8a2a" stroke-width="0.95"/>
<circle cx="472.34" cy="104.84" r="2.5" fill="#fff" fill-opacity="0.6" stroke="#ec8a2a" stroke-width="0.95"/>
<circle cx="468.3" cy="112.02" r="2.5" fill="#fff" fill-opacity="0.6" stroke="#ec8a2a" stroke-width="0.95"/>
<circle cx="462.79" cy="118.2" r="2.5" fill="#fff" fill-opacity="0.6" stroke="#ec8a2a" stroke-width="0.95"/>
<circle cx="456.54" cy="123.66" r="2.5" fill="#fff" fill-opacity="0.6" stroke="#ec8a2a" stroke-width="0.95"/>
<circle cx="449.57" cy="128.1" r="2.5" fill="#fff" fill-opacity="0.6" stroke="#ec8a2a" stroke-width="0.95"/>
<circle cx="441.84" cy="131.11" r="2.5" fill="#fff" fill-opacity="0.6" stroke="#ec8a2a" stroke-width="0.95"/>
<circle cx="433.75" cy="132.76" r="2.5" fill="#fff" fill-opacity="0.6" stroke="#ec8a2a" stroke-width="0.95"/>
<circle cx="425.46" cy="133.09" r="2.5" fill="#fff" fill-opacity="0.6" stroke="#ec8a2a" stroke-width="0.95"/>
<circle cx="416" cy="131.3" r="1.45" fill="#ec8a2a"/>
<circle cx="407.1" cy="129" r="1.45" fill="#ec8a2a"/>
<circle cx="400.5" cy="126.8" r="1.45" fill="#ec8a2a"/>
<circle cx="394" cy="124.1" r="1.45" fill="#ec8a2a"/>
<circle cx="388" cy="119.5" r="1.45" fill="#ec8a2a"/>
<circle cx="382.6" cy="114.3" r="1.45" fill="#ec8a2a"/>
<circle cx="378.2" cy="107.8" r="1.45" fill="#ec8a2a"/>
<circle cx="374.4" cy="101.2" r="1.45" fill="#ec8a2a"/>
<circle cx="372.8" cy="86" r="1.45" fill="#ec8a2a"/>
<circle cx="373.6" cy="70.5" r="1.45" fill="#ec8a2a"/>
<circle cx="376.9" cy="56.1" r="1.45" fill="#ec8a2a"/>
<circle cx="385.9" cy="42.7" r="1.45" fill="#ec8a2a"/>
<circle cx="400.6" cy="37.8" r="1.45" fill="#ec8a2a"/>
<circle cx="416.9" cy="39.8" r="1.45" fill="#ec8a2a"/>
<circle cx="430" cy="36.5" r="1.45" fill="#ec8a2a"/>
<circle cx="443.5" cy="33.8" r="1.45" fill="#ec8a2a"/>
<circle cx="456.9" cy="31.6" r="1.45" fill="#ec8a2a"/>
<circle cx="413.6" cy="52.9" r="1.45" fill="#ec8a2a"/>
<circle cx="394" cy="64.3" r="1.45" fill="#ec8a2a"/>
<circle cx="377.7" cy="75.7" r="1.45" fill="#ec8a2a"/>
<circle cx="449.5" cy="91.4" r="1.45" fill="#ec8a2a"/>
<circle cx="472.4" cy="81.6" r="1.45" fill="#ec8a2a"/>
<circle cx="487.1" cy="74.1" r="1.45" fill="#ec8a2a"/>
<circle cx="472.4" cy="43.9" r="1.45" fill="#ec8a2a"/>
<circle cx="449.5" cy="27" r="1.45" fill="#ec8a2a"/>
<circle cx="426.7" cy="22.6" r="1.45" fill="#ec8a2a"/>
<circle cx="407.9" cy="21.8" r="1.45" fill="#ec8a2a"/>
<circle cx="391.6" cy="27" r="1.45" fill="#ec8a2a"/>
<circle cx="379.3" cy="38.2" r="1.45" fill="#ec8a2a"/>
<circle cx="372.8" cy="56.1" r="1.45" fill="#ec8a2a"/>
<circle cx="370.3" cy="72.5" r="1.45" fill="#ec8a2a"/>
<circle cx="368.5" cy="101" r="1.45" fill="#ec8a2a"/>
<circle cx="377.7" cy="122.5" r="1.45" fill="#ec8a2a"/>
<circle cx="394" cy="129" r="1.45" fill="#ec8a2a"/>
<circle cx="410.4" cy="132.3" r="1.45" fill="#ec8a2a"/>
<circle cx="430" cy="135.6" r="1.45" fill="#ec8a2a"/>
<circle cx="445.4" cy="137.2" r="1.45" fill="#ec8a2a"/>
<circle cx="456.1" cy="132.3" r="1.45" fill="#ec8a2a"/>
<circle cx="473.2" cy="117.6" r="1.45" fill="#ec8a2a"/>
<circle cx="481.4" cy="98" r="1.45" fill="#ec8a2a"/>
<circle cx="483" cy="80.8" r="1.45" fill="#ec8a2a"/>
<rect x="338.5" y="192.5" width="174.3" height="170.3" fill="#1e1e1e" stroke="#5a5a5a" stroke-width="1"/>
<g clip-path="url(#semclip)">
<g filter="url(#semblur2)">
<line x1="657.41" y1="-16.98" x2="244.35" y2="668.13" stroke="rgb(88,88,88)" stroke-width="7.46" stroke-opacity="1.0"/>
<line x1="625.4" y1="-68.46" x2="285.66" y2="655.82" stroke="rgb(66,66,66)" stroke-width="5.79" stroke-opacity="1.0"/>
<line x1="375.4" y1="-63.64" x2="453.08" y2="732.58" stroke="rgb(70,70,70)" stroke-width="6.49" stroke-opacity="1.0"/>
<line x1="262.42" y1="-104.66" x2="669.5" y2="584.03" stroke="rgb(93,93,93)" stroke-width="4.93" stroke-opacity="1.0"/>
<line x1="240.97" y1="-127.55" x2="744.94" y2="493.75" stroke="rgb(74,74,74)" stroke-width="6.05" stroke-opacity="1.0"/>
<line x1="712.64" y1="-25.27" x2="49.76" y2="422.61" stroke="rgb(73,73,73)" stroke-width="7.71" stroke-opacity="1.0"/>
<line x1="545.53" y1="-72.56" x2="181.23" y2="639.68" stroke="rgb(81,81,81)" stroke-width="4.06" stroke-opacity="1.0"/>
<line x1="322.28" y1="-38.06" x2="440.13" y2="753.21" stroke="rgb(88,88,88)" stroke-width="6.04" stroke-opacity="1.0"/>
<line x1="464.3" y1="-174.7" x2="576.56" y2="617.38" stroke="rgb(111,111,111)" stroke-width="6.37" stroke-opacity="1.0"/>
<line x1="305.47" y1="-124.91" x2="585.23" y2="624.58" stroke="rgb(76,76,76)" stroke-width="4.04" stroke-opacity="1.0"/>
<line x1="394.79" y1="-161.31" x2="579.7" y2="617.03" stroke="rgb(89,89,89)" stroke-width="4.51" stroke-opacity="1.0"/>
<line x1="213.12" y1="-186.22" x2="485.07" y2="566.14" stroke="rgb(72,72,72)" stroke-width="4.63" stroke-opacity="1.0"/>
<line x1="846.79" y1="-22.2" x2="189.37" y2="433.65" stroke="rgb(76,76,76)" stroke-width="4.95" stroke-opacity="1.0"/>
<line x1="390.21" y1="-171.79" x2="427.02" y2="627.36" stroke="rgb(90,90,90)" stroke-width="6.24" stroke-opacity="1.0"/>
<line x1="864.01" y1="203.37" x2="77.62" y2="350.32" stroke="rgb(62,62,62)" stroke-width="4.71" stroke-opacity="1.0"/>
<line x1="349.79" y1="-79.03" x2="494.83" y2="707.72" stroke="rgb(68,68,68)" stroke-width="6.36" stroke-opacity="1.0"/>
<line x1="310.29" y1="-13.51" x2="654.71" y2="708.55" stroke="rgb(80,80,80)" stroke-width="4.55" stroke-opacity="1.0"/>
<line x1="281.8" y1="-111.21" x2="618.06" y2="614.69" stroke="rgb(82,82,82)" stroke-width="4.34" stroke-opacity="1.0"/>
<line x1="809.4" y1="64.73" x2="117.24" y2="465.88" stroke="rgb(97,97,97)" stroke-width="4.05" stroke-opacity="1.0"/>
<line x1="685.96" y1="104.83" x2="15.73" y2="541.64" stroke="rgb(89,89,89)" stroke-width="7.35" stroke-opacity="1.0"/>
<line x1="440.04" y1="-137.19" x2="473.37" y2="662.11" stroke="rgb(102,102,102)" stroke-width="7.68" stroke-opacity="1.0"/>
<line x1="570.05" y1="1.32" x2="172.93" y2="695.8" stroke="rgb(75,75,75)" stroke-width="5.31" stroke-opacity="1.0"/>
<line x1="259.4" y1="-121.66" x2="442.26" y2="657.16" stroke="rgb(73,73,73)" stroke-width="4.54" stroke-opacity="1.0"/>
<line x1="357.87" y1="-211.08" x2="329.03" y2="588.4" stroke="rgb(73,73,73)" stroke-width="7.32" stroke-opacity="1.0"/>
<line x1="589.41" y1="-173.5" x2="244.61" y2="548.39" stroke="rgb(115,115,115)" stroke-width="6.43" stroke-opacity="1.0"/>
<line x1="850.82" y1="193.03" x2="119.64" y2="517.63" stroke="rgb(113,113,113)" stroke-width="5.07" stroke-opacity="1.0"/>
<line x1="170.88" y1="-94.77" x2="592.52" y2="585.1" stroke="rgb(103,103,103)" stroke-width="4.79" stroke-opacity="1.0"/>
<line x1="714.97" y1="-30.28" x2="303.94" y2="656.05" stroke="rgb(104,104,104)" stroke-width="7.79" stroke-opacity="1.0"/>
<line x1="377.48" y1="-97.76" x2="459.98" y2="697.98" stroke="rgb(68,68,68)" stroke-width="5.8" stroke-opacity="1.0"/>
<line x1="433.02" y1="-111.3" x2="603.21" y2="670.39" stroke="rgb(73,73,73)" stroke-width="4.4" stroke-opacity="1.0"/>
<line x1="625.08" y1="-101.2" x2="330.23" y2="642.48" stroke="rgb(110,110,110)" stroke-width="7.73" stroke-opacity="1.0"/>
<line x1="510.16" y1="-93.96" x2="205.38" y2="645.7" stroke="rgb(61,61,61)" stroke-width="4.87" stroke-opacity="1.0"/>
<line x1="591.25" y1="-131.28" x2="270.57" y2="601.63" stroke="rgb(106,106,106)" stroke-width="6.07" stroke-opacity="1.0"/>
<line x1="-11.62" y1="213.9" x2="750.21" y2="458.04" stroke="rgb(106,106,106)" stroke-width="6.25" stroke-opacity="1.0"/>
<line x1="281.18" y1="-116.72" x2="576.52" y2="626.77" stroke="rgb(94,94,94)" stroke-width="6.1" stroke-opacity="1.0"/>
<line x1="599.72" y1="-66.89" x2="162.46" y2="603.04" stroke="rgb(111,111,111)" stroke-width="7.96" stroke-opacity="1.0"/>
<line x1="430.54" y1="-186.14" x2="585.54" y2="598.7" stroke="rgb(68,68,68)" stroke-width="5.36" stroke-opacity="1.0"/>
<line x1="457.34" y1="-70.72" x2="241.26" y2="699.55" stroke="rgb(109,109,109)" stroke-width="7.91" stroke-opacity="1.0"/>
<line x1="48.91" y1="255.27" x2="847.41" y2="304.26" stroke="rgb(67,67,67)" stroke-width="7.41" stroke-opacity="1.0"/>
<line x1="785.89" y1="27.52" x2="115.1" y2="463.47" stroke="rgb(115,115,115)" stroke-width="6.53" stroke-opacity="1.0"/>
<line x1="281.95" y1="-194.49" x2="427.35" y2="592.19" stroke="rgb(71,71,71)" stroke-width="5.26" stroke-opacity="1.0"/>
<line x1="255.09" y1="-103.69" x2="440.09" y2="674.63" stroke="rgb(84,84,84)" stroke-width="4.39" stroke-opacity="1.0"/>
<line x1="247.51" y1="-52.67" x2="721.19" y2="592.02" stroke="rgb(82,82,82)" stroke-width="7.65" stroke-opacity="1.0"/>
<line x1="360.96" y1="-17.1" x2="680.29" y2="716.41" stroke="rgb(61,61,61)" stroke-width="4.15" stroke-opacity="1.0"/>
<line x1="376.88" y1="-107.39" x2="447.56" y2="689.48" stroke="rgb(66,66,66)" stroke-width="6.32" stroke-opacity="1.0"/>
<line x1="-31.52" y1="197.85" x2="753.4" y2="352.47" stroke="rgb(60,60,60)" stroke-width="6.54" stroke-opacity="1.0"/>
<line x1="336.2" y1="-29.97" x2="516.96" y2="749.34" stroke="rgb(60,60,60)" stroke-width="5.29" stroke-opacity="1.0"/>
<line x1="519.6" y1="-91.56" x2="478.9" y2="707.41" stroke="rgb(111,111,111)" stroke-width="7.05" stroke-opacity="1.0"/>
<line x1="494.29" y1="-53.82" x2="547.06" y2="744.44" stroke="rgb(109,109,109)" stroke-width="5.73" stroke-opacity="1.0"/>
<line x1="602.77" y1="-87.62" x2="254.42" y2="632.55" stroke="rgb(63,63,63)" stroke-width="4.93" stroke-opacity="1.0"/>
</g><g filter="url(#semblur)">
<line x1="593.28" y1="-43.77" x2="260.06" y2="683.53" stroke="rgb(177,177,177)" stroke-width="3.9" stroke-opacity="1.0"/>
<line x1="242.11" y1="-11.68" x2="662.8" y2="668.78" stroke="rgb(198,198,198)" stroke-width="2.52" stroke-opacity="1.0"/>
<line x1="653.72" y1="-43.9" x2="214.01" y2="624.42" stroke="rgb(159,159,159)" stroke-width="3.6" stroke-opacity="1.0"/>
<line x1="114.1" y1="237.77" x2="903.61" y2="366.86" stroke="rgb(204,204,204)" stroke-width="4.39" stroke-opacity="1.0"/>
<line x1="484.95" y1="-207.83" x2="462.67" y2="591.86" stroke="rgb(187,187,187)" stroke-width="2.55" stroke-opacity="1.0"/>
<line x1="869.55" y1="44.36" x2="140.42" y2="373.56" stroke="rgb(190,190,190)" stroke-width="2.65" stroke-opacity="1.0"/>
<line x1="162.4" y1="-114.17" x2="636.2" y2="530.43" stroke="rgb(181,181,181)" stroke-width="3.71" stroke-opacity="1.0"/>
<line x1="464.34" y1="-174.08" x2="477.83" y2="625.81" stroke="rgb(203,203,203)" stroke-width="3.41" stroke-opacity="1.0"/>
<line x1="823.37" y1="171.58" x2="63.6" y2="422.08" stroke="rgb(164,164,164)" stroke-width="3.51" stroke-opacity="1.0"/>
<line x1="414" y1="-210.65" x2="344.43" y2="586.32" stroke="rgb(180,180,180)" stroke-width="2.88" stroke-opacity="1.0"/>
<line x1="388.05" y1="-151.83" x2="457.26" y2="645.17" stroke="rgb(154,154,154)" stroke-width="2.7" stroke-opacity="1.0"/>
<line x1="323.87" y1="-72.12" x2="506.09" y2="706.85" stroke="rgb(193,193,193)" stroke-width="3.19" stroke-opacity="1.0"/>
<line x1="280.98" y1="-128.63" x2="542.53" y2="627.41" stroke="rgb(199,199,199)" stroke-width="4.12" stroke-opacity="1.0"/>
<line x1="145.98" y1="-126.36" x2="541.46" y2="569.05" stroke="rgb(162,162,162)" stroke-width="3.42" stroke-opacity="1.0"/>
<line x1="385.49" y1="-195.64" x2="414.31" y2="603.85" stroke="rgb(160,160,160)" stroke-width="3.89" stroke-opacity="1.0"/>
<line x1="406.39" y1="-41.5" x2="337.22" y2="755.51" stroke="rgb(206,206,206)" stroke-width="3.64" stroke-opacity="1.0"/>
<line x1="498.06" y1="-119.53" x2="468.41" y2="679.92" stroke="rgb(181,181,181)" stroke-width="2.67" stroke-opacity="1.0"/>
<line x1="-1.28" y1="87.92" x2="773.78" y2="286.11" stroke="rgb(172,172,172)" stroke-width="2.85" stroke-opacity="1.0"/>
<line x1="180.94" y1="-69.04" x2="487.11" y2="670.05" stroke="rgb(204,204,204)" stroke-width="2.63" stroke-opacity="1.0"/>
<line x1="588.68" y1="-22.83" x2="204.94" y2="679.13" stroke="rgb(162,162,162)" stroke-width="3.99" stroke-opacity="1.0"/>
<line x1="750.78" y1="-2.13" x2="42.35" y2="369.52" stroke="rgb(192,192,192)" stroke-width="3.84" stroke-opacity="1.0"/>
<line x1="658.48" y1="-22.88" x2="356.93" y2="718.11" stroke="rgb(198,198,198)" stroke-width="4.17" stroke-opacity="1.0"/>
<line x1="362.57" y1="-81.43" x2="477.88" y2="710.22" stroke="rgb(181,181,181)" stroke-width="3.98" stroke-opacity="1.0"/>
<line x1="284.8" y1="-167.53" x2="494.15" y2="604.59" stroke="rgb(188,188,188)" stroke-width="3.8" stroke-opacity="1.0"/>
<line x1="387.95" y1="-30.89" x2="622.49" y2="733.96" stroke="rgb(195,195,195)" stroke-width="2.93" stroke-opacity="1.0"/>
<line x1="223.97" y1="-133.94" x2="588.61" y2="578.13" stroke="rgb(211,211,211)" stroke-width="4.21" stroke-opacity="1.0"/>
<line x1="344.59" y1="-27.73" x2="658.69" y2="708.04" stroke="rgb(167,167,167)" stroke-width="4.1" stroke-opacity="1.0"/>
<line x1="-21.55" y1="179.66" x2="730.29" y2="453.05" stroke="rgb(197,197,197)" stroke-width="3.4" stroke-opacity="1.0"/>
<line x1="197.05" y1="-140.12" x2="492.85" y2="603.18" stroke="rgb(184,184,184)" stroke-width="3.53" stroke-opacity="1.0"/>
<line x1="167.02" y1="29.85" x2="652.35" y2="665.82" stroke="rgb(162,162,162)" stroke-width="4.28" stroke-opacity="1.0"/>
<line x1="381.85" y1="-203.26" x2="396.41" y2="596.6" stroke="rgb(161,161,161)" stroke-width="4.06" stroke-opacity="1.0"/>
<line x1="892.63" y1="197.19" x2="139.57" y2="467.18" stroke="rgb(189,189,189)" stroke-width="4.49" stroke-opacity="1.0"/>
<line x1="676.83" y1="38.34" x2="61.18" y2="549.2" stroke="rgb(206,206,206)" stroke-width="2.52" stroke-opacity="1.0"/>
<line x1="257.38" y1="-69.97" x2="478" y2="699" stroke="rgb(187,187,187)" stroke-width="3.76" stroke-opacity="1.0"/>
<line x1="-44.82" y1="225.69" x2="739.36" y2="384.01" stroke="rgb(192,192,192)" stroke-width="3.12" stroke-opacity="1.0"/>
<line x1="230.56" y1="-34.34" x2="595.33" y2="677.66" stroke="rgb(172,172,172)" stroke-width="2.86" stroke-opacity="1.0"/>
<line x1="519.61" y1="-104.79" x2="494.94" y2="694.83" stroke="rgb(193,193,193)" stroke-width="4.34" stroke-opacity="1.0"/>
<line x1="293.32" y1="-86.8" x2="497.13" y2="686.8" stroke="rgb(201,201,201)" stroke-width="3.73" stroke-opacity="1.0"/>
</g><g filter="url(#semblur)">
<g><line x1="124.84" y1="153.36" x2="882.62" y2="409.79" stroke="#111" stroke-width="4.84" stroke-opacity="0.3"/></g>
<line x1="206.71" y1="-137.99" x2="670.86" y2="513.59" stroke="rgb(228,228,228)" stroke-width="2.95" stroke-opacity="1.0"/>
<g><line x1="411.69" y1="-194.64" x2="425.51" y2="605.24" stroke="#111" stroke-width="5.16" stroke-opacity="0.3"/></g>
<line x1="859.94" y1="117.61" x2="182.01" y2="542.36" stroke="rgb(231,231,231)" stroke-width="3.57" stroke-opacity="1.0"/>
<g><line x1="108.44" y1="-25.46" x2="621.37" y2="588.47" stroke="#111" stroke-width="4.22" stroke-opacity="0.3"/></g>
<line x1="836.65" y1="141.34" x2="149.28" y2="550.62" stroke="rgb(244,244,244)" stroke-width="2.68" stroke-opacity="1.0"/>
<g><line x1="9.81" y1="200.63" x2="805.21" y2="286.28" stroke="#111" stroke-width="4.89" stroke-opacity="0.3"/></g>
<line x1="709.58" y1="-58.38" x2="319.69" y2="640.18" stroke="rgb(244,244,244)" stroke-width="2.73" stroke-opacity="1.0"/>
<g><line x1="621.35" y1="-41.5" x2="361.05" y2="714.97" stroke="#111" stroke-width="4.52" stroke-opacity="0.3"/></g>
<line x1="214.99" y1="-166.34" x2="567.11" y2="552" stroke="rgb(240,240,240)" stroke-width="3.01" stroke-opacity="1.0"/>
<g><line x1="378.27" y1="-156.8" x2="606.5" y2="609.95" stroke="#111" stroke-width="5.35" stroke-opacity="0.3"/></g>
<line x1="331.6" y1="-0.51" x2="666.87" y2="725.85" stroke="rgb(244,244,244)" stroke-width="3.47" stroke-opacity="1.0"/>
<g><line x1="250.98" y1="-151.56" x2="608.12" y2="564.29" stroke="#111" stroke-width="5.3" stroke-opacity="0.3"/></g>
<line x1="687.9" y1="-24.67" x2="316.51" y2="683.9" stroke="rgb(236,236,236)" stroke-width="3.48" stroke-opacity="1.0"/>
<g><line x1="294.12" y1="21.79" x2="725.31" y2="695.64" stroke="#111" stroke-width="4.21" stroke-opacity="0.3"/></g>
<line x1="538.38" y1="-212.55" x2="467.66" y2="584.32" stroke="rgb(237,237,237)" stroke-width="3.07" stroke-opacity="1.0"/>
<g><line x1="331.54" y1="-65.94" x2="444.91" y2="725.98" stroke="#111" stroke-width="5.32" stroke-opacity="0.3"/></g>
<line x1="461.52" y1="-159.3" x2="227.05" y2="605.57" stroke="rgb(245,245,245)" stroke-width="3.56" stroke-opacity="1.0"/>
<g><line x1="770.43" y1="-6.97" x2="90.52" y2="414.6" stroke="#111" stroke-width="4.18" stroke-opacity="0.3"/></g>
<line x1="616.67" y1="-125.77" x2="421.77" y2="650.12" stroke="rgb(234,234,234)" stroke-width="3.12" stroke-opacity="1.0"/>
<g><line x1="128.26" y1="11.45" x2="640.1" y2="626.29" stroke="#111" stroke-width="4.11" stroke-opacity="0.3"/></g>
<line x1="719.59" y1="-50.24" x2="293.06" y2="626.57" stroke="rgb(241,241,241)" stroke-width="2.85" stroke-opacity="1.0"/>
<g><line x1="266.27" y1="-91.5" x2="591.7" y2="639.32" stroke="#111" stroke-width="5.39" stroke-opacity="0.3"/></g>
<line x1="37.77" y1="165.38" x2="788.79" y2="440.99" stroke="rgb(225,225,225)" stroke-width="3.45" stroke-opacity="1.0"/>
<g><line x1="524.26" y1="-153.5" x2="234.88" y2="592.32" stroke="#111" stroke-width="5.16" stroke-opacity="0.3"/></g>
<line x1="541.92" y1="-69.95" x2="311.01" y2="696" stroke="rgb(242,242,242)" stroke-width="3.57" stroke-opacity="1.0"/>
<g><line x1="414.93" y1="-91.91" x2="407.68" y2="708.06" stroke="#111" stroke-width="4.11" stroke-opacity="0.3"/></g>
<line x1="524.62" y1="-160.55" x2="232" y2="584.02" stroke="rgb(225,225,225)" stroke-width="3.42" stroke-opacity="1.0"/>
<line x1="339.7" y1="-110.0" x2="343.0" y2="656.0" stroke="#101010" stroke-width="4.84" stroke-opacity="0.35"/>
<line x1="339.7" y1="-110.0" x2="343.0" y2="656.0" stroke="rgb(249,249,249)" stroke-width="3.24"/>
<line x1="43.3" y1="180.9" x2="810.2" y2="287.2" stroke="#101010" stroke-width="5.38" stroke-opacity="0.35"/>
<line x1="43.3" y1="180.9" x2="810.2" y2="287.2" stroke="rgb(236,236,236)" stroke-width="3.78"/>
<line x1="219.3" y1="-80.9" x2="500.9" y2="510.9" stroke="#101010" stroke-width="4.57" stroke-opacity="0.35"/>
<line x1="219.3" y1="-80.9" x2="500.9" y2="510.9" stroke="rgb(245,245,245)" stroke-width="2.97"/>
<line x1="147.4" y1="-30.0" x2="589.0" y2="490.8" stroke="#101010" stroke-width="4.3" stroke-opacity="0.35"/>
<line x1="147.4" y1="-30.0" x2="589.0" y2="490.8" stroke="rgb(248,248,248)" stroke-width="2.7"/>
<line x1="359.3" y1="-109.7" x2="387.8" y2="527.7" stroke="#101010" stroke-width="5.92" stroke-opacity="0.35"/>
<line x1="359.3" y1="-109.7" x2="387.8" y2="527.7" stroke="rgb(249,249,249)" stroke-width="4.32"/>
<line x1="228.1" y1="-60.1" x2="579.9" y2="470.9" stroke="#101010" stroke-width="4.3" stroke-opacity="0.35"/>
<line x1="228.1" y1="-60.1" x2="579.9" y2="470.9" stroke="rgb(246,246,246)" stroke-width="2.7"/>
<line x1="338.4" y1="-101.1" x2="493.4" y2="522.1" stroke="#101010" stroke-width="4.84" stroke-opacity="0.35"/>
<line x1="338.4" y1="-101.1" x2="493.4" y2="522.1" stroke="rgb(241,241,241)" stroke-width="3.24"/>
<line x1="492.0" y1="-54.6" x2="331.2" y2="572.6" stroke="#101010" stroke-width="4.57" stroke-opacity="0.35"/>
<line x1="492.0" y1="-54.6" x2="331.2" y2="572.6" stroke="rgb(236,236,236)" stroke-width="2.97"/>
<line x1="125.6" y1="29.5" x2="617.2" y2="488.8" stroke="#101010" stroke-width="4.84" stroke-opacity="0.35"/>
<line x1="125.6" y1="29.5" x2="617.2" y2="488.8" stroke="rgb(239,239,239)" stroke-width="3.24"/>
<line x1="288.2" y1="-60.8" x2="482.6" y2="566.6" stroke="#101010" stroke-width="4.03" stroke-opacity="0.35"/>
<line x1="288.2" y1="-60.8" x2="482.6" y2="566.6" stroke="rgb(250,250,250)" stroke-width="2.43"/>
<line x1="460.0" y1="-108.7" x2="398.5" y2="542.7" stroke="#101010" stroke-width="4.57" stroke-opacity="0.35"/>
<line x1="460.0" y1="-108.7" x2="398.5" y2="542.7" stroke="rgb(239,239,239)" stroke-width="2.97"/>
<line x1="438.4" y1="-109.8" x2="464.0" y2="581.8" stroke="#101010" stroke-width="4.84" stroke-opacity="0.35"/>
<line x1="438.4" y1="-109.8" x2="464.0" y2="581.8" stroke="rgb(239,239,239)" stroke-width="3.24"/>
<line x1="228.9" y1="-12.3" x2="736.5" y2="451.3" stroke="#101010" stroke-width="7" stroke-opacity="0.35"/>
<line x1="228.9" y1="-12.3" x2="736.5" y2="451.3" stroke="rgb(249,249,249)" stroke-width="5.4"/>
<line x1="312.6" y1="-69.1" x2="633.3" y2="480.1" stroke="#101010" stroke-width="4.3" stroke-opacity="0.35"/>
<line x1="312.6" y1="-69.1" x2="633.3" y2="480.1" stroke="rgb(251,251,251)" stroke-width="2.7"/>
<line x1="390.0" y1="-94.8" x2="590.3" y2="510.8" stroke="#101010" stroke-width="4.57" stroke-opacity="0.35"/>
<line x1="390.0" y1="-94.8" x2="590.3" y2="510.8" stroke="rgb(236,236,236)" stroke-width="2.97"/>
<line x1="471.3" y1="-108.7" x2="532.7" y2="541.7" stroke="#101010" stroke-width="4.3" stroke-opacity="0.35"/>
<line x1="471.3" y1="-108.7" x2="532.7" y2="541.7" stroke="rgb(235,235,235)" stroke-width="2.7"/>
<line x1="465.6" y1="-73.0" x2="524.9" y2="580.8" stroke="#101010" stroke-width="4.84" stroke-opacity="0.35"/>
<line x1="465.6" y1="-73.0" x2="524.9" y2="580.8" stroke="rgb(242,242,242)" stroke-width="3.24"/>
<line x1="207.8" y1="40.9" x2="676.0" y2="486.9" stroke="#101010" stroke-width="4.57" stroke-opacity="0.35"/>
<line x1="207.8" y1="40.9" x2="676.0" y2="486.9" stroke="rgb(248,248,248)" stroke-width="2.97"/>
<line x1="666.1" y1="11.9" x2="270.2" y2="515.9" stroke="#101010" stroke-width="4.3" stroke-opacity="0.35"/>
<line x1="666.1" y1="11.9" x2="270.2" y2="515.9" stroke="rgb(251,251,251)" stroke-width="2.7"/>
<line x1="342.4" y1="-29.9" x2="355.6" y2="652.9" stroke="#101010" stroke-width="4.57" stroke-opacity="0.35"/>
<line x1="342.4" y1="-29.9" x2="355.6" y2="652.9" stroke="rgb(239,239,239)" stroke-width="2.97"/>
<line x1="110.5" y1="101.0" x2="663.6" y2="494.8" stroke="#101010" stroke-width="5.11" stroke-opacity="0.35"/>
<line x1="110.5" y1="101.0" x2="663.6" y2="494.8" stroke="rgb(237,237,237)" stroke-width="3.51"/>
<line x1="509.2" y1="-11.6" x2="271.7" y2="634.6" stroke="#101010" stroke-width="5.65" stroke-opacity="0.35"/>
<line x1="509.2" y1="-11.6" x2="271.7" y2="634.6" stroke="rgb(247,247,247)" stroke-width="4.05"/>
<line x1="431.5" y1="-29.7" x2="403.5" y2="652.7" stroke="#101010" stroke-width="5.38" stroke-opacity="0.35"/>
<line x1="431.5" y1="-29.7" x2="403.5" y2="652.7" stroke="rgb(252,252,252)" stroke-width="3.78"/>
<line x1="280.7" y1="-6.3" x2="454.5" y2="642.8" stroke="#101010" stroke-width="4.57" stroke-opacity="0.35"/>
<line x1="280.7" y1="-6.3" x2="454.5" y2="642.8" stroke="rgb(244,244,244)" stroke-width="2.97"/>
<line x1="216.1" y1="77.2" x2="599.9" y2="593.8" stroke="#101010" stroke-width="4.3" stroke-opacity="0.35"/>
<line x1="216.1" y1="77.2" x2="599.9" y2="593.8" stroke="rgb(250,250,250)" stroke-width="2.7"/>
<line x1="363.9" y1="-21.4" x2="526.8" y2="644.4" stroke="#101010" stroke-width="5.11" stroke-opacity="0.35"/>
<line x1="363.9" y1="-21.4" x2="526.8" y2="644.4" stroke="rgb(248,248,248)" stroke-width="3.51"/>
<line x1="279.6" y1="29.6" x2="604.2" y2="615.4" stroke="#101010" stroke-width="4.84" stroke-opacity="0.35"/>
<line x1="279.6" y1="29.6" x2="604.2" y2="615.4" stroke="rgb(237,237,237)" stroke-width="3.24"/>
<line x1="390.5" y1="-24.0" x2="527.2" y2="647.0" stroke="#101010" stroke-width="4.57" stroke-opacity="0.35"/>
<line x1="390.5" y1="-24.0" x2="527.2" y2="647.0" stroke="rgb(236,236,236)" stroke-width="2.97"/>
<line x1="508.4" y1="-29.7" x2="480.4" y2="652.7" stroke="#101010" stroke-width="5.38" stroke-opacity="0.35"/>
<line x1="508.4" y1="-29.7" x2="480.4" y2="652.7" stroke="rgb(242,242,242)" stroke-width="3.78"/>
<line x1="673.8" y1="43.6" x2="281.1" y2="547.2" stroke="#101010" stroke-width="4.84" stroke-opacity="0.35"/>
<line x1="673.8" y1="43.6" x2="281.1" y2="547.2" stroke="rgb(244,244,244)" stroke-width="3.24"/>
<line x1="264.7" y1="70.5" x2="720.7" y2="545.6" stroke="#101010" stroke-width="4.57" stroke-opacity="0.35"/>
<line x1="264.7" y1="70.5" x2="720.7" y2="545.6" stroke="rgb(243,243,243)" stroke-width="2.97"/>
</g></g>
<rect x="339" y="351.2" width="173.5" height="11.2" fill="#0c0c0c"/>
<line x1="342" y1="354.5" x2="372" y2="354.5" stroke="#777" stroke-width="0.5"/>
<line x1="342" y1="353" x2="342" y2="356" stroke="#777" stroke-width="0.5"/><line x1="372" y1="353" x2="372" y2="356" stroke="#777" stroke-width="0.5"/>
<text x="344" y="360.2" font-size="3.2" fill="#9a9a9a" style="stroke:none;font-family:Liberation Sans,sans-serif">10 μm</text>
<text x="400" y="355.6" font-size="3.2" fill="#9a9a9a" style="stroke:none;font-family:Liberation Sans,sans-serif">HV</text>
<text x="400" y="360.2" font-size="3.2" fill="#9a9a9a" style="stroke:none;font-family:Liberation Sans,sans-serif">15.0 kV</text>
<text x="423" y="355.6" font-size="3.2" fill="#9a9a9a" style="stroke:none;font-family:Liberation Sans,sans-serif">Det</text>
<text x="423" y="360.2" font-size="3.2" fill="#9a9a9a" style="stroke:none;font-family:Liberation Sans,sans-serif">SED</text>
<text x="447" y="355.6" font-size="3.2" fill="#9a9a9a" style="stroke:none;font-family:Liberation Sans,sans-serif">Det Signal</text>
<text x="488" y="355.6" font-size="3.2" fill="#9a9a9a" style="stroke:none;font-family:Liberation Sans,sans-serif">10.00</text>
<text x="493" y="360.2" font-size="3.2" fill="#9a9a9a" style="stroke:none;font-family:Liberation Sans,sans-serif">ID</text>
</svg></body></html>
